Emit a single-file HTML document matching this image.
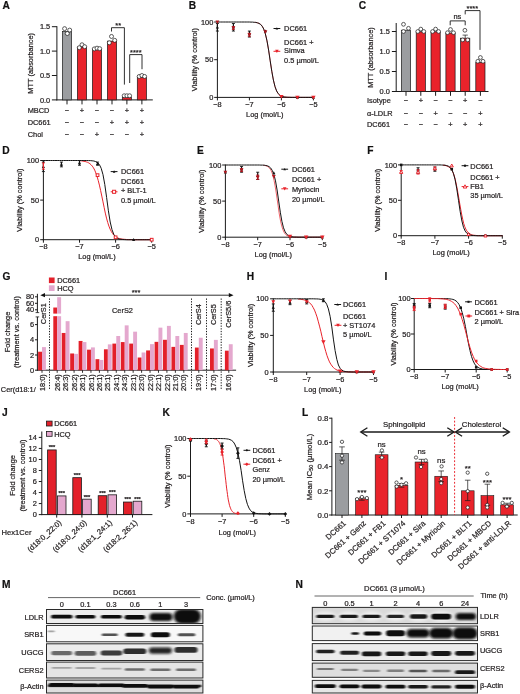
<!DOCTYPE html>
<html><head><meta charset="utf-8"><title>Figure</title>
<style>html,body{margin:0;padding:0;background:#fff}svg{display:block;font-family:"Liberation Sans",sans-serif;font-size:7.4px;fill:#231f20}text{stroke:#231f20;stroke-width:0.22px}</style>
</head><body>
<svg width="520" height="694" viewBox="0 0 520 694">
<rect width="520" height="694" fill="#fff"/>
<text x="2.50" y="9.40" font-size="10.2" font-weight="bold" fill="#111">A</text>
<line x1="56.90" y1="26.20" x2="56.90" y2="100.40" stroke="#1a1a1a" stroke-width="1.0"/>
<line x1="56.40" y1="99.90" x2="152.80" y2="99.90" stroke="#1a1a1a" stroke-width="1.0"/>
<line x1="51.90" y1="26.70" x2="56.90" y2="26.70" stroke="#1a1a1a" stroke-width="1.0"/>
<text x="50.20" y="29.30" text-anchor="end">1.5</text>
<line x1="51.90" y1="51.10" x2="56.90" y2="51.10" stroke="#1a1a1a" stroke-width="1.0"/>
<text x="50.20" y="53.70" text-anchor="end">1.0</text>
<line x1="51.90" y1="75.50" x2="56.90" y2="75.50" stroke="#1a1a1a" stroke-width="1.0"/>
<text x="50.20" y="78.10" text-anchor="end">0.5</text>
<line x1="51.90" y1="99.90" x2="56.90" y2="99.90" stroke="#1a1a1a" stroke-width="1.0"/>
<text x="50.20" y="102.50" text-anchor="end">0.0</text>
<rect x="62.40" y="31.59" width="9.20" height="68.31" fill="#9b9da0" stroke="#1a1a1a" stroke-width="0.7"/>
<line x1="67.00" y1="99.90" x2="67.00" y2="104.40" stroke="#1a1a1a" stroke-width="1.0"/>
<circle cx="64.60" cy="28.65" r="2.0" fill="#fff" stroke="#1a1a1a" stroke-width="0.7"/>
<circle cx="67.30" cy="33.53" r="2.0" fill="#fff" stroke="#1a1a1a" stroke-width="0.7"/>
<circle cx="69.70" cy="30.12" r="2.0" fill="#fff" stroke="#1a1a1a" stroke-width="0.7"/>
<rect x="77.40" y="47.01" width="9.20" height="52.89" fill="#e9232b" stroke="#1a1a1a" stroke-width="0.7"/>
<line x1="82.00" y1="99.90" x2="82.00" y2="104.40" stroke="#1a1a1a" stroke-width="1.0"/>
<circle cx="79.30" cy="47.68" r="2.0" fill="#fff" stroke="#1a1a1a" stroke-width="0.7"/>
<circle cx="82.00" cy="44.76" r="2.0" fill="#fff" stroke="#1a1a1a" stroke-width="0.7"/>
<circle cx="84.70" cy="46.71" r="2.0" fill="#fff" stroke="#1a1a1a" stroke-width="0.7"/>
<rect x="92.40" y="49.20" width="9.20" height="50.70" fill="#e9232b" stroke="#1a1a1a" stroke-width="0.7"/>
<line x1="97.00" y1="99.90" x2="97.00" y2="104.40" stroke="#1a1a1a" stroke-width="1.0"/>
<circle cx="94.30" cy="48.90" r="2.0" fill="#fff" stroke="#1a1a1a" stroke-width="0.7"/>
<circle cx="97.00" cy="48.17" r="2.0" fill="#fff" stroke="#1a1a1a" stroke-width="0.7"/>
<circle cx="99.70" cy="48.66" r="2.0" fill="#fff" stroke="#1a1a1a" stroke-width="0.7"/>
<rect x="107.40" y="41.15" width="9.20" height="58.75" fill="#e9232b" stroke="#1a1a1a" stroke-width="0.7"/>
<line x1="112.00" y1="99.90" x2="112.00" y2="104.40" stroke="#1a1a1a" stroke-width="1.0"/>
<circle cx="109.30" cy="42.80" r="2.0" fill="#fff" stroke="#1a1a1a" stroke-width="0.7"/>
<circle cx="111.50" cy="36.46" r="2.0" fill="#fff" stroke="#1a1a1a" stroke-width="0.7"/>
<circle cx="114.70" cy="40.36" r="2.0" fill="#fff" stroke="#1a1a1a" stroke-width="0.7"/>
<rect x="122.30" y="97.27" width="9.20" height="2.63" fill="#e9232b" stroke="#1a1a1a" stroke-width="0.7"/>
<line x1="126.90" y1="99.90" x2="126.90" y2="104.40" stroke="#1a1a1a" stroke-width="1.0"/>
<circle cx="124.20" cy="95.75" r="2.0" fill="#fff" stroke="#1a1a1a" stroke-width="0.7"/>
<circle cx="126.90" cy="95.75" r="2.0" fill="#fff" stroke="#1a1a1a" stroke-width="0.7"/>
<circle cx="129.60" cy="95.75" r="2.0" fill="#fff" stroke="#1a1a1a" stroke-width="0.7"/>
<rect x="137.30" y="77.51" width="9.20" height="22.39" fill="#e9232b" stroke="#1a1a1a" stroke-width="0.7"/>
<line x1="141.90" y1="99.90" x2="141.90" y2="104.40" stroke="#1a1a1a" stroke-width="1.0"/>
<circle cx="139.20" cy="76.48" r="2.0" fill="#fff" stroke="#1a1a1a" stroke-width="0.7"/>
<circle cx="141.90" cy="75.50" r="2.0" fill="#fff" stroke="#1a1a1a" stroke-width="0.7"/>
<circle cx="144.60" cy="76.48" r="2.0" fill="#fff" stroke="#1a1a1a" stroke-width="0.7"/>
<text x="27.70" y="112.90">MBCD</text>
<text x="67.00" y="112.90" text-anchor="middle">−</text>
<text x="82.00" y="112.90" text-anchor="middle">+</text>
<text x="97.00" y="112.90" text-anchor="middle">−</text>
<text x="112.00" y="112.90" text-anchor="middle">−</text>
<text x="126.90" y="112.90" text-anchor="middle">+</text>
<text x="141.90" y="112.90" text-anchor="middle">+</text>
<text x="27.70" y="124.90">DC661</text>
<text x="67.00" y="124.90" text-anchor="middle">−</text>
<text x="82.00" y="124.90" text-anchor="middle">−</text>
<text x="97.00" y="124.90" text-anchor="middle">−</text>
<text x="112.00" y="124.90" text-anchor="middle">+</text>
<text x="126.90" y="124.90" text-anchor="middle">+</text>
<text x="141.90" y="124.90" text-anchor="middle">+</text>
<text x="27.70" y="137.10">Chol</text>
<text x="67.00" y="137.10" text-anchor="middle">−</text>
<text x="82.00" y="137.10" text-anchor="middle">−</text>
<text x="97.00" y="137.10" text-anchor="middle">+</text>
<text x="112.00" y="137.10" text-anchor="middle">−</text>
<text x="126.90" y="137.10" text-anchor="middle">−</text>
<text x="141.90" y="137.10" text-anchor="middle">+</text>
<text x="33.10" y="63.30" text-anchor="middle" transform="rotate(-90 33.10 63.30)">MTT (absorbance)</text>
<path d="M111.5,31.5 V27.7 H124.4 V84.6" stroke="#1a1a1a" stroke-width="0.9" fill="none"/>
<text x="118.20" y="27.60" text-anchor="middle">**</text>
<path d="M129.7,83 V54.6 H142 V69.2" stroke="#1a1a1a" stroke-width="0.9" fill="none"/>
<text x="135.80" y="54.90" text-anchor="middle">****</text>
<text x="358.80" y="9.00" font-size="10.2" font-weight="bold" fill="#111">C</text>
<line x1="396.20" y1="23.00" x2="396.20" y2="92.00" stroke="#1a1a1a" stroke-width="1.0"/>
<line x1="395.70" y1="91.50" x2="488.50" y2="91.50" stroke="#1a1a1a" stroke-width="1.0"/>
<line x1="391.90" y1="31.50" x2="396.20" y2="31.50" stroke="#1a1a1a" stroke-width="1.0"/>
<text x="389.80" y="34.10" text-anchor="end">1.5</text>
<line x1="391.90" y1="51.50" x2="396.20" y2="51.50" stroke="#1a1a1a" stroke-width="1.0"/>
<text x="389.80" y="54.10" text-anchor="end">1.0</text>
<line x1="391.90" y1="71.50" x2="396.20" y2="71.50" stroke="#1a1a1a" stroke-width="1.0"/>
<text x="389.80" y="74.10" text-anchor="end">0.5</text>
<line x1="391.90" y1="91.50" x2="396.20" y2="91.50" stroke="#1a1a1a" stroke-width="1.0"/>
<text x="389.80" y="94.10" text-anchor="end">0.0</text>
<rect x="401.40" y="30.20" width="9.20" height="61.30" fill="#9b9da0" stroke="#1a1a1a" stroke-width="0.7"/>
<line x1="406.00" y1="91.50" x2="406.00" y2="95.80" stroke="#1a1a1a" stroke-width="1.0"/>
<circle cx="403.50" cy="24.30" r="1.9" fill="#fff" stroke="#1a1a1a" stroke-width="0.7"/>
<circle cx="408.50" cy="28.30" r="1.9" fill="#fff" stroke="#1a1a1a" stroke-width="0.7"/>
<circle cx="403.50" cy="31.50" r="1.9" fill="#fff" stroke="#1a1a1a" stroke-width="0.7"/>
<rect x="416.20" y="31.80" width="9.20" height="59.70" fill="#e9232b" stroke="#1a1a1a" stroke-width="0.7"/>
<line x1="420.80" y1="91.50" x2="420.80" y2="95.80" stroke="#1a1a1a" stroke-width="1.0"/>
<circle cx="417.80" cy="31.50" r="1.9" fill="#fff" stroke="#1a1a1a" stroke-width="0.7"/>
<circle cx="420.80" cy="29.10" r="1.9" fill="#fff" stroke="#1a1a1a" stroke-width="0.7"/>
<circle cx="423.80" cy="31.50" r="1.9" fill="#fff" stroke="#1a1a1a" stroke-width="0.7"/>
<rect x="431.00" y="31.80" width="9.20" height="59.70" fill="#e9232b" stroke="#1a1a1a" stroke-width="0.7"/>
<line x1="435.60" y1="91.50" x2="435.60" y2="95.80" stroke="#1a1a1a" stroke-width="1.0"/>
<circle cx="432.60" cy="31.50" r="1.9" fill="#fff" stroke="#1a1a1a" stroke-width="0.7"/>
<circle cx="435.60" cy="29.10" r="1.9" fill="#fff" stroke="#1a1a1a" stroke-width="0.7"/>
<circle cx="438.60" cy="31.50" r="1.9" fill="#fff" stroke="#1a1a1a" stroke-width="0.7"/>
<rect x="445.90" y="33.00" width="9.20" height="58.50" fill="#e9232b" stroke="#1a1a1a" stroke-width="0.7"/>
<line x1="450.50" y1="91.50" x2="450.50" y2="95.80" stroke="#1a1a1a" stroke-width="1.0"/>
<circle cx="447.50" cy="32.70" r="1.9" fill="#fff" stroke="#1a1a1a" stroke-width="0.7"/>
<circle cx="450.50" cy="29.50" r="1.9" fill="#fff" stroke="#1a1a1a" stroke-width="0.7"/>
<circle cx="453.50" cy="32.70" r="1.9" fill="#fff" stroke="#1a1a1a" stroke-width="0.7"/>
<rect x="460.60" y="38.20" width="9.20" height="53.30" fill="#e9232b" stroke="#1a1a1a" stroke-width="0.7"/>
<line x1="465.20" y1="91.50" x2="465.20" y2="95.80" stroke="#1a1a1a" stroke-width="1.0"/>
<circle cx="464.90" cy="30.30" r="1.9" fill="#fff" stroke="#1a1a1a" stroke-width="0.7"/>
<circle cx="462.70" cy="39.90" r="1.9" fill="#fff" stroke="#1a1a1a" stroke-width="0.7"/>
<circle cx="467.70" cy="39.90" r="1.9" fill="#fff" stroke="#1a1a1a" stroke-width="0.7"/>
<rect x="475.80" y="62.40" width="9.20" height="29.10" fill="#e9232b" stroke="#1a1a1a" stroke-width="0.7"/>
<line x1="480.40" y1="91.50" x2="480.40" y2="95.80" stroke="#1a1a1a" stroke-width="1.0"/>
<circle cx="477.80" cy="61.30" r="1.9" fill="#fff" stroke="#1a1a1a" stroke-width="0.7"/>
<circle cx="480.40" cy="57.50" r="1.9" fill="#fff" stroke="#1a1a1a" stroke-width="0.7"/>
<circle cx="483.00" cy="61.30" r="1.9" fill="#fff" stroke="#1a1a1a" stroke-width="0.7"/>
<text x="367.00" y="103.20">Isotype</text>
<text x="406.00" y="103.20" text-anchor="middle">−</text>
<text x="420.80" y="103.20" text-anchor="middle">+</text>
<text x="435.60" y="103.20" text-anchor="middle">−</text>
<text x="450.50" y="103.20" text-anchor="middle">−</text>
<text x="465.20" y="103.20" text-anchor="middle">+</text>
<text x="480.40" y="103.20" text-anchor="middle">−</text>
<text x="367.00" y="115.50">α-LDLR</text>
<text x="406.00" y="115.50" text-anchor="middle">−</text>
<text x="420.80" y="115.50" text-anchor="middle">−</text>
<text x="435.60" y="115.50" text-anchor="middle">+</text>
<text x="450.50" y="115.50" text-anchor="middle">−</text>
<text x="465.20" y="115.50" text-anchor="middle">−</text>
<text x="480.40" y="115.50" text-anchor="middle">+</text>
<text x="367.00" y="127.30">DC661</text>
<text x="406.00" y="127.30" text-anchor="middle">−</text>
<text x="420.80" y="127.30" text-anchor="middle">−</text>
<text x="435.60" y="127.30" text-anchor="middle">−</text>
<text x="450.50" y="127.30" text-anchor="middle">+</text>
<text x="465.20" y="127.30" text-anchor="middle">+</text>
<text x="480.40" y="127.30" text-anchor="middle">+</text>
<text x="373.00" y="57.50" text-anchor="middle" transform="rotate(-90 373.00 57.50)">MTT (absorbance)</text>
<path d="M465.2,35.1 V38 M462.6,35.1 H467.8" stroke="#1a1a1a" stroke-width="0.7" fill="none"/>
<path d="M450.2,25.3 V20.9 H465.2 V25.3" stroke="#1a1a1a" stroke-width="0.9" fill="none"/>
<text x="457.40" y="18.80" text-anchor="middle">ns</text>
<path d="M465.2,14.4 V10.6 H480 V49.9" stroke="#1a1a1a" stroke-width="0.9" fill="none"/>
<text x="472.30" y="11.20" text-anchor="middle">****</text>
<text x="188.70" y="8.70" font-size="10.2" font-weight="bold" fill="#111">B</text>
<line x1="217.40" y1="21.50" x2="217.40" y2="97.90" stroke="#1a1a1a" stroke-width="1.0"/>
<line x1="216.90" y1="97.40" x2="313.90" y2="97.40" stroke="#1a1a1a" stroke-width="1.0"/>
<line x1="214.20" y1="22.00" x2="217.40" y2="22.00" stroke="#1a1a1a" stroke-width="1.0"/>
<text x="213.30" y="24.60" text-anchor="end">100</text>
<line x1="214.20" y1="59.70" x2="217.40" y2="59.70" stroke="#1a1a1a" stroke-width="1.0"/>
<text x="213.30" y="62.30" text-anchor="end">50</text>
<line x1="214.20" y1="97.40" x2="217.40" y2="97.40" stroke="#1a1a1a" stroke-width="1.0"/>
<text x="213.30" y="100.00" text-anchor="end">0</text>
<line x1="217.40" y1="97.40" x2="217.40" y2="100.40" stroke="#1a1a1a" stroke-width="1.0"/>
<text x="217.40" y="107.40" text-anchor="middle">−8</text>
<line x1="249.40" y1="97.40" x2="249.40" y2="100.40" stroke="#1a1a1a" stroke-width="1.0"/>
<text x="249.40" y="107.40" text-anchor="middle">−7</text>
<line x1="281.40" y1="97.40" x2="281.40" y2="100.40" stroke="#1a1a1a" stroke-width="1.0"/>
<text x="281.40" y="107.40" text-anchor="middle">−6</text>
<line x1="313.40" y1="97.40" x2="313.40" y2="100.40" stroke="#1a1a1a" stroke-width="1.0"/>
<text x="313.40" y="107.40" text-anchor="middle">−5</text>
<text x="264.80" y="117.20" text-anchor="middle">Log (mol/L)</text>
<text x="197.20" y="59.70" text-anchor="middle" transform="rotate(-90 197.20 59.70)">Viability (% control)</text>
<path d="M254.7,22.3L255.7,22.4L256.6,22.6L257.6,22.9L258.6,23.2L259.6,23.7L260.6,24.4L261.5,25.4L262.5,26.7L263.5,28.5L264.5,30.9L265.4,34.1L266.4,38.1L267.4,43.0L268.4,48.8L269.4,55.1L270.3,61.7L271.3,68.2L272.3,74.2L273.3,79.5L274.3,83.8L275.2,87.3L276.2,90.0L277.2,92.1L278.2,93.6L279.1,94.7L280.1,95.4L281.1,96.0L282.1,96.4L283.1,96.7L284.0,96.9L285.0,97.1L286.0,97.2L287.0,97.2L288.0,97.3L288.9,97.3L289.9,97.3L290.9,97.4L291.9,97.4L292.8,97.4L293.8,97.4L294.8,97.4L295.8,97.4L296.8,97.4L297.7,97.4L298.7,97.4L299.7,97.4L300.7,97.4L301.7,97.4L302.6,97.4L303.6,97.4L304.6,97.4L305.6,97.4L306.5,97.4L307.5,97.4L308.5,97.4L309.5,97.4L310.5,97.4L311.4,97.4L312.4,97.4L313.4,97.4" stroke="#e9232b" stroke-width="0.7" fill="none" stroke-linejoin="round"/>
<path d="M217.4,22.0L219.0,22.0L220.6,22.0L222.2,22.0L223.8,22.0L225.4,22.0L227.0,22.0L228.6,22.0L230.2,22.0L231.8,22.0L233.4,22.0L235.0,22.0L236.6,22.0L238.2,22.0L239.8,22.0L241.4,22.0L243.0,22.0L244.6,22.0L246.2,22.0L247.8,22.0L249.4,22.0L251.0,22.1L252.6,22.1L254.2,22.3L255.8,22.4L257.4,22.8L259.0,23.4L260.6,24.4L262.2,26.2L263.8,29.2L265.4,34.0L267.0,40.9L268.6,50.1L270.2,60.8L271.8,71.3L273.4,80.1L275.0,86.6L276.6,90.9L278.2,93.6L279.8,95.2L281.4,96.2L283.0,96.7L284.6,97.0L286.2,97.2L287.8,97.3L289.4,97.3L291.0,97.4L292.6,97.4L294.2,97.4L295.8,97.4L297.4,97.4L299.0,97.4L300.6,97.4L302.2,97.4L303.8,97.4L305.4,97.4L307.0,97.4L308.6,97.4L310.2,97.4L311.8,97.4L313.4,97.4" stroke="#141414" stroke-width="1.0" fill="none" stroke-linejoin="round"/>
<line x1="217.40" y1="23.51" x2="217.40" y2="31.05" stroke="#141414" stroke-width="1.2"/>
<line x1="215.90" y1="23.51" x2="218.90" y2="23.51" stroke="#141414" stroke-width="0.9"/>
<line x1="215.90" y1="31.05" x2="218.90" y2="31.05" stroke="#141414" stroke-width="0.9"/>
<path d="M215.80,28.56 L219.00,28.56 L217.40,25.68 Z" fill="#141414"/>
<line x1="233.40" y1="23.51" x2="233.40" y2="31.05" stroke="#141414" stroke-width="1.2"/>
<line x1="231.90" y1="23.51" x2="234.90" y2="23.51" stroke="#141414" stroke-width="0.9"/>
<line x1="231.90" y1="31.05" x2="234.90" y2="31.05" stroke="#141414" stroke-width="0.9"/>
<path d="M231.80,28.56 L235.00,28.56 L233.40,25.68 Z" fill="#141414"/>
<line x1="249.40" y1="31.05" x2="249.40" y2="37.08" stroke="#141414" stroke-width="1.2"/>
<line x1="247.90" y1="31.05" x2="250.90" y2="31.05" stroke="#141414" stroke-width="0.9"/>
<line x1="247.90" y1="37.08" x2="250.90" y2="37.08" stroke="#141414" stroke-width="0.9"/>
<path d="M247.80,35.34 L251.00,35.34 L249.40,32.46 Z" fill="#141414"/>
<path d="M263.80,32.33 L267.00,32.33 L265.40,29.45 Z" fill="#141414"/>
<path d="M279.80,97.93 L283.00,97.93 L281.40,95.05 Z" fill="#141414"/>
<path d="M295.80,98.68 L299.00,98.68 L297.40,95.80 Z" fill="#141414"/>
<path d="M311.80,98.68 L315.00,98.68 L313.40,95.80 Z" fill="#141414"/>
<path d="M215.50,20.48 L219.30,20.48 L217.40,23.90 Z" fill="#b0161e"/>
<line x1="233.40" y1="26.52" x2="233.40" y2="29.54" stroke="#b0161e" stroke-width="1.2"/>
<line x1="231.90" y1="26.52" x2="234.90" y2="26.52" stroke="#b0161e" stroke-width="0.9"/>
<line x1="231.90" y1="29.54" x2="234.90" y2="29.54" stroke="#b0161e" stroke-width="0.9"/>
<path d="M231.50,26.51 L235.30,26.51 L233.40,29.93 Z" fill="#b0161e"/>
<line x1="249.40" y1="33.31" x2="249.40" y2="36.33" stroke="#b0161e" stroke-width="1.2"/>
<line x1="247.90" y1="33.31" x2="250.90" y2="33.31" stroke="#b0161e" stroke-width="0.9"/>
<line x1="247.90" y1="36.33" x2="250.90" y2="36.33" stroke="#b0161e" stroke-width="0.9"/>
<path d="M247.50,33.30 L251.30,33.30 L249.40,36.72 Z" fill="#b0161e"/>
<path d="M263.50,30.28 L267.30,30.28 L265.40,33.70 Z" fill="#b0161e"/>
<path d="M279.20,94.89 L283.60,94.89 L281.40,98.85 Z" fill="#e9232b"/>
<path d="M295.20,95.64 L299.60,95.64 L297.40,99.60 Z" fill="#e9232b"/>
<path d="M311.20,95.64 L315.60,95.64 L313.40,99.60 Z" fill="#e9232b"/>
<line x1="273.50" y1="28.50" x2="280.30" y2="28.50" stroke="#141414" stroke-width="1.0"/>
<path d="M275.60,29.54 L278.20,29.54 L276.90,27.20 Z" fill="#141414"/>
<text x="284.10" y="30.90">DC661</text>
<text x="284.10" y="44.80">DC661 +</text>
<line x1="273.50" y1="51.30" x2="280.30" y2="51.30" stroke="#e9232b" stroke-width="1.0"/>
<path d="M275.10,49.86 L278.70,49.86 L276.90,53.10 Z" fill="#e9232b"/>
<text x="284.10" y="53.40">Simva</text>
<text x="284.10" y="62.90">0.5 µmol/L</text>
<text x="2.30" y="154.00" font-size="10.2" font-weight="bold" fill="#111">D</text>
<line x1="43.40" y1="160.00" x2="43.40" y2="240.20" stroke="#1a1a1a" stroke-width="1.0"/>
<line x1="42.90" y1="239.70" x2="152.20" y2="239.70" stroke="#1a1a1a" stroke-width="1.0"/>
<line x1="40.20" y1="160.50" x2="43.40" y2="160.50" stroke="#1a1a1a" stroke-width="1.0"/>
<text x="39.00" y="163.10" text-anchor="end">100</text>
<line x1="40.20" y1="200.10" x2="43.40" y2="200.10" stroke="#1a1a1a" stroke-width="1.0"/>
<text x="39.00" y="202.70" text-anchor="end">50</text>
<line x1="40.20" y1="239.70" x2="43.40" y2="239.70" stroke="#1a1a1a" stroke-width="1.0"/>
<text x="39.00" y="242.30" text-anchor="end">0</text>
<line x1="43.40" y1="239.70" x2="43.40" y2="242.70" stroke="#1a1a1a" stroke-width="1.0"/>
<text x="43.40" y="249.20" text-anchor="middle">−8</text>
<line x1="79.50" y1="239.70" x2="79.50" y2="242.70" stroke="#1a1a1a" stroke-width="1.0"/>
<text x="79.50" y="249.20" text-anchor="middle">−7</text>
<line x1="115.60" y1="239.70" x2="115.60" y2="242.70" stroke="#1a1a1a" stroke-width="1.0"/>
<text x="115.60" y="249.20" text-anchor="middle">−6</text>
<line x1="151.70" y1="239.70" x2="151.70" y2="242.70" stroke="#1a1a1a" stroke-width="1.0"/>
<text x="151.70" y="249.20" text-anchor="middle">−5</text>
<text x="96.95" y="259.20" text-anchor="middle">Log (mol/L)</text>
<text x="21.80" y="200.10" text-anchor="middle" transform="rotate(-90 21.80 200.10)">Viability (% control)</text>
<path d="M80.4,160.8L81.6,160.9L82.8,161.1L84.0,161.3L85.1,161.5L86.3,161.9L87.5,162.3L88.7,162.9L89.9,163.7L91.1,164.8L92.3,166.1L93.5,167.9L94.7,170.1L95.8,172.9L97.0,176.3L98.2,180.4L99.4,185.1L100.6,190.4L101.8,196.1L103.0,201.9L104.2,207.7L105.3,213.1L106.5,218.1L107.7,222.4L108.9,226.1L110.1,229.1L111.3,231.5L112.5,233.4L113.7,235.0L114.9,236.1L116.0,237.0L117.2,237.7L118.4,238.2L119.6,238.6L120.8,238.9L122.0,239.1L123.2,239.2L124.4,239.3L125.6,239.4L126.7,239.5L127.9,239.6L129.1,239.6L130.3,239.6L131.5,239.6L132.7,239.7L133.9,239.7L135.1,239.7L136.2,239.7L137.4,239.7L138.6,239.7L139.8,239.7L141.0,239.7L142.2,239.7L143.4,239.7L144.6,239.7L145.8,239.7L146.9,239.7L148.1,239.7L149.3,239.7L150.5,239.7L151.7,239.7" stroke="#e9232b" stroke-width="1.0" fill="none" stroke-linejoin="round"/>
<path d="M43.4,160.5L45.2,160.5L47.0,160.5L48.8,160.5L50.6,160.5L52.4,160.5L54.2,160.5L56.0,160.5L57.8,160.5L59.6,160.5L61.5,160.5L63.3,160.5L65.1,160.5L66.9,160.5L68.7,160.5L70.5,160.5L72.3,160.5L74.1,160.5L75.9,160.5L77.7,160.5L79.5,160.5L81.3,160.5L83.1,160.5L84.9,160.5L86.7,160.5L88.5,160.6L90.3,160.6L92.1,160.8L93.9,161.0L95.7,161.6L97.6,162.6L99.4,164.6L101.2,168.3L103.0,174.7L104.8,184.6L106.6,197.4L108.4,210.8L110.2,222.0L112.0,229.7L113.8,234.4L115.6,236.9L117.4,238.3L119.2,239.0L121.0,239.3L122.8,239.5L124.6,239.6L126.4,239.7L128.2,239.7L130.0,239.7L131.8,239.7L133.7,239.7L135.5,239.7L137.3,239.7L139.1,239.7L140.9,239.7L142.7,239.7L144.5,239.7L146.3,239.7L148.1,239.7L149.9,239.7L151.7,239.7" stroke="#141414" stroke-width="1.0" fill="none" stroke-linejoin="round"/>
<line x1="43.40" y1="162.08" x2="43.40" y2="171.59" stroke="#141414" stroke-width="1.2"/>
<line x1="41.90" y1="162.08" x2="44.90" y2="162.08" stroke="#141414" stroke-width="0.9"/>
<line x1="41.90" y1="171.59" x2="44.90" y2="171.59" stroke="#141414" stroke-width="0.9"/>
<path d="M41.80,168.12 L45.00,168.12 L43.40,165.24 Z" fill="#141414"/>
<line x1="61.45" y1="162.08" x2="61.45" y2="166.84" stroke="#141414" stroke-width="1.2"/>
<line x1="59.95" y1="162.08" x2="62.95" y2="162.08" stroke="#141414" stroke-width="0.9"/>
<line x1="59.95" y1="166.84" x2="62.95" y2="166.84" stroke="#141414" stroke-width="0.9"/>
<path d="M59.85,165.74 L63.05,165.74 L61.45,162.86 Z" fill="#141414"/>
<line x1="79.50" y1="160.50" x2="79.50" y2="165.25" stroke="#141414" stroke-width="1.2"/>
<line x1="78.00" y1="160.50" x2="81.00" y2="160.50" stroke="#141414" stroke-width="0.9"/>
<line x1="78.00" y1="165.25" x2="81.00" y2="165.25" stroke="#141414" stroke-width="0.9"/>
<path d="M77.90,164.16 L81.10,164.16 L79.50,161.28 Z" fill="#141414"/>
<line x1="97.55" y1="162.08" x2="97.55" y2="165.25" stroke="#141414" stroke-width="1.2"/>
<line x1="96.05" y1="162.08" x2="99.05" y2="162.08" stroke="#141414" stroke-width="0.9"/>
<line x1="96.05" y1="165.25" x2="99.05" y2="165.25" stroke="#141414" stroke-width="0.9"/>
<path d="M95.95,164.95 L99.15,164.95 L97.55,162.07 Z" fill="#141414"/>
<path d="M114.00,238.60 L117.20,238.60 L115.60,235.72 Z" fill="#141414"/>
<path d="M132.05,240.98 L135.25,240.98 L133.65,238.10 Z" fill="#141414"/>
<path d="M150.10,240.98 L153.30,240.98 L151.70,238.10 Z" fill="#141414"/>
<line x1="43.40" y1="162.88" x2="43.40" y2="169.21" stroke="#e9232b" stroke-width="1.2"/>
<line x1="41.90" y1="162.88" x2="44.90" y2="162.88" stroke="#e9232b" stroke-width="0.9"/>
<line x1="41.90" y1="169.21" x2="44.90" y2="169.21" stroke="#e9232b" stroke-width="0.9"/>
<rect x="96.19" y="173.79" width="2.72" height="2.72" fill="#fff" stroke="#e9232b" stroke-width="1.0"/>
<rect x="114.24" y="235.96" width="2.72" height="2.72" fill="#fff" stroke="#e9232b" stroke-width="1.0"/>
<rect x="150.34" y="238.34" width="2.72" height="2.72" fill="#fff" stroke="#e9232b" stroke-width="1.0"/>
<line x1="110.70" y1="171.60" x2="117.50" y2="171.60" stroke="#141414" stroke-width="1.0"/>
<path d="M112.80,172.64 L115.40,172.64 L114.10,170.30 Z" fill="#141414"/>
<text x="121.00" y="173.50">DC661</text>
<text x="121.00" y="183.90">DC661</text>
<line x1="110.70" y1="191.80" x2="117.50" y2="191.80" stroke="#e9232b" stroke-width="1.0"/>
<rect x="112.57" y="190.27" width="3.06" height="3.06" fill="#fff" stroke="#e9232b" stroke-width="1.0"/>
<text x="121.00" y="193.40">+ BLT-1</text>
<text x="121.00" y="203.30">0.5 µmol/L</text>
<text x="196.90" y="154.40" font-size="10.2" font-weight="bold" fill="#111">E</text>
<line x1="225.40" y1="164.50" x2="225.40" y2="237.70" stroke="#1a1a1a" stroke-width="1.0"/>
<line x1="224.90" y1="237.20" x2="322.80" y2="237.20" stroke="#1a1a1a" stroke-width="1.0"/>
<line x1="222.20" y1="165.00" x2="225.40" y2="165.00" stroke="#1a1a1a" stroke-width="1.0"/>
<text x="221.30" y="167.60" text-anchor="end">100</text>
<line x1="222.20" y1="201.10" x2="225.40" y2="201.10" stroke="#1a1a1a" stroke-width="1.0"/>
<text x="221.30" y="203.70" text-anchor="end">50</text>
<line x1="222.20" y1="237.20" x2="225.40" y2="237.20" stroke="#1a1a1a" stroke-width="1.0"/>
<text x="221.30" y="239.80" text-anchor="end">0</text>
<line x1="225.40" y1="237.20" x2="225.40" y2="240.20" stroke="#1a1a1a" stroke-width="1.0"/>
<text x="225.40" y="246.90" text-anchor="middle">−8</text>
<line x1="257.70" y1="237.20" x2="257.70" y2="240.20" stroke="#1a1a1a" stroke-width="1.0"/>
<text x="257.70" y="246.90" text-anchor="middle">−7</text>
<line x1="290.00" y1="237.20" x2="290.00" y2="240.20" stroke="#1a1a1a" stroke-width="1.0"/>
<text x="290.00" y="246.90" text-anchor="middle">−6</text>
<line x1="322.30" y1="237.20" x2="322.30" y2="240.20" stroke="#1a1a1a" stroke-width="1.0"/>
<text x="322.30" y="246.90" text-anchor="middle">−5</text>
<text x="273.25" y="257.20" text-anchor="middle">Log (mol/L)</text>
<text x="203.70" y="201.10" text-anchor="middle" transform="rotate(-90 203.70 201.10)">Viability (% control)</text>
<path d="M263.3,165.3L264.3,165.4L265.3,165.6L266.3,165.9L267.2,166.3L268.2,166.9L269.2,167.8L270.2,169.0L271.2,170.8L272.2,173.2L273.1,176.4L274.1,180.6L275.1,185.9L276.1,192.0L277.1,198.8L278.1,205.7L279.0,212.3L280.0,218.2L281.0,223.1L282.0,226.9L283.0,229.9L284.0,232.1L284.9,233.6L285.9,234.7L286.9,235.5L287.9,236.0L288.9,236.4L289.9,236.7L290.8,236.8L291.8,236.9L292.8,237.0L293.8,237.1L294.8,237.1L295.8,237.1L296.7,237.2L297.7,237.2L298.7,237.2L299.7,237.2L300.7,237.2L301.7,237.2L302.6,237.2L303.6,237.2L304.6,237.2L305.6,237.2L306.6,237.2L307.6,237.2L308.5,237.2L309.5,237.2L310.5,237.2L311.5,237.2L312.5,237.2L313.5,237.2L314.4,237.2L315.4,237.2L316.4,237.2L317.4,237.2L318.4,237.2L319.4,237.2L320.3,237.2L321.3,237.2L322.3,237.2" stroke="#e9232b" stroke-width="0.7" fill="none" stroke-linejoin="round"/>
<path d="M225.4,165.0L227.0,165.0L228.6,165.0L230.2,165.0L231.9,165.0L233.5,165.0L235.1,165.0L236.7,165.0L238.3,165.0L239.9,165.0L241.6,165.0L243.2,165.0L244.8,165.0L246.4,165.0L248.0,165.0L249.6,165.0L251.2,165.0L252.9,165.0L254.5,165.0L256.1,165.0L257.7,165.0L259.3,165.0L260.9,165.1L262.5,165.1L264.2,165.2L265.8,165.5L267.4,165.8L269.0,166.6L270.6,167.9L272.2,170.3L273.9,174.4L275.5,180.9L277.1,190.0L278.7,201.1L280.3,212.2L281.9,221.3L283.5,227.8L285.2,231.9L286.8,234.3L288.4,235.6L290.0,236.4L291.6,236.7L293.2,237.0L294.8,237.1L296.5,237.1L298.1,237.2L299.7,237.2L301.3,237.2L302.9,237.2L304.5,237.2L306.1,237.2L307.8,237.2L309.4,237.2L311.0,237.2L312.6,237.2L314.2,237.2L315.8,237.2L317.5,237.2L319.1,237.2L320.7,237.2L322.3,237.2" stroke="#141414" stroke-width="1.0" fill="none" stroke-linejoin="round"/>
<path d="M223.80,173.50 L227.00,173.50 L225.40,170.62 Z" fill="#141414"/>
<line x1="241.55" y1="166.44" x2="241.55" y2="172.22" stroke="#141414" stroke-width="1.2"/>
<line x1="240.05" y1="166.44" x2="243.05" y2="166.44" stroke="#141414" stroke-width="0.9"/>
<line x1="240.05" y1="172.22" x2="243.05" y2="172.22" stroke="#141414" stroke-width="0.9"/>
<path d="M239.95,170.61 L243.15,170.61 L241.55,167.73 Z" fill="#141414"/>
<line x1="257.70" y1="172.22" x2="257.70" y2="179.44" stroke="#141414" stroke-width="1.2"/>
<line x1="256.20" y1="172.22" x2="259.20" y2="172.22" stroke="#141414" stroke-width="0.9"/>
<line x1="256.20" y1="179.44" x2="259.20" y2="179.44" stroke="#141414" stroke-width="0.9"/>
<path d="M256.10,177.11 L259.30,177.11 L257.70,174.23 Z" fill="#141414"/>
<path d="M272.25,174.22 L275.45,174.22 L273.85,171.34 Z" fill="#141414"/>
<path d="M288.40,237.76 L291.60,237.76 L290.00,234.88 Z" fill="#141414"/>
<path d="M304.55,238.48 L307.75,238.48 L306.15,235.60 Z" fill="#141414"/>
<path d="M320.70,238.48 L323.90,238.48 L322.30,235.60 Z" fill="#141414"/>
<path d="M223.50,170.70 L227.30,170.70 L225.40,174.12 Z" fill="#b0161e"/>
<line x1="241.55" y1="168.61" x2="241.55" y2="171.50" stroke="#b0161e" stroke-width="1.2"/>
<line x1="240.05" y1="168.61" x2="243.05" y2="168.61" stroke="#b0161e" stroke-width="0.9"/>
<line x1="240.05" y1="171.50" x2="243.05" y2="171.50" stroke="#b0161e" stroke-width="0.9"/>
<path d="M239.65,168.53 L243.45,168.53 L241.55,171.95 Z" fill="#b0161e"/>
<line x1="257.70" y1="175.11" x2="257.70" y2="179.44" stroke="#b0161e" stroke-width="1.2"/>
<line x1="256.20" y1="175.11" x2="259.20" y2="175.11" stroke="#b0161e" stroke-width="0.9"/>
<line x1="256.20" y1="179.44" x2="259.20" y2="179.44" stroke="#b0161e" stroke-width="0.9"/>
<path d="M255.80,175.75 L259.60,175.75 L257.70,179.17 Z" fill="#b0161e"/>
<path d="M271.95,175.03 L275.75,175.03 L273.85,178.45 Z" fill="#b0161e"/>
<path d="M287.80,234.72 L292.20,234.72 L290.00,238.68 Z" fill="#e9232b"/>
<path d="M303.95,235.44 L308.35,235.44 L306.15,239.40 Z" fill="#e9232b"/>
<path d="M320.10,235.44 L324.50,235.44 L322.30,239.40 Z" fill="#e9232b"/>
<line x1="281.30" y1="169.20" x2="288.10" y2="169.20" stroke="#141414" stroke-width="1.0"/>
<path d="M283.40,170.24 L286.00,170.24 L284.70,167.90 Z" fill="#141414"/>
<text x="291.90" y="171.80">DC661</text>
<text x="291.90" y="182.30">DC661 +</text>
<line x1="281.30" y1="188.80" x2="288.10" y2="188.80" stroke="#e9232b" stroke-width="1.0"/>
<path d="M282.90,187.36 L286.50,187.36 L284.70,190.60 Z" fill="#e9232b"/>
<text x="291.90" y="191.50">Myriocin</text>
<text x="291.90" y="201.50">20 µmol/L</text>
<text x="367.20" y="154.40" font-size="10.2" font-weight="bold" fill="#111">F</text>
<line x1="401.20" y1="164.40" x2="401.20" y2="236.20" stroke="#1a1a1a" stroke-width="1.0"/>
<line x1="400.70" y1="235.70" x2="502.80" y2="235.70" stroke="#1a1a1a" stroke-width="1.0"/>
<line x1="398.00" y1="164.90" x2="401.20" y2="164.90" stroke="#1a1a1a" stroke-width="1.0"/>
<text x="397.10" y="167.50" text-anchor="end">100</text>
<line x1="398.00" y1="200.30" x2="401.20" y2="200.30" stroke="#1a1a1a" stroke-width="1.0"/>
<text x="397.10" y="202.90" text-anchor="end">50</text>
<line x1="398.00" y1="235.70" x2="401.20" y2="235.70" stroke="#1a1a1a" stroke-width="1.0"/>
<text x="397.10" y="238.30" text-anchor="end">0</text>
<line x1="401.20" y1="235.70" x2="401.20" y2="238.70" stroke="#1a1a1a" stroke-width="1.0"/>
<text x="401.20" y="245.40" text-anchor="middle">−8</text>
<line x1="434.90" y1="235.70" x2="434.90" y2="238.70" stroke="#1a1a1a" stroke-width="1.0"/>
<text x="434.90" y="245.40" text-anchor="middle">−7</text>
<line x1="468.60" y1="235.70" x2="468.60" y2="238.70" stroke="#1a1a1a" stroke-width="1.0"/>
<text x="468.60" y="245.40" text-anchor="middle">−6</text>
<line x1="502.30" y1="235.70" x2="502.30" y2="238.70" stroke="#1a1a1a" stroke-width="1.0"/>
<text x="502.30" y="245.40" text-anchor="middle">−5</text>
<text x="451.15" y="255.10" text-anchor="middle">Log (mol/L)</text>
<text x="379.80" y="200.30" text-anchor="middle" transform="rotate(-90 379.80 200.30)">Viability (% control)</text>
<path d="M443.0,165.2L444.0,165.3L445.0,165.4L446.0,165.7L446.9,166.0L447.9,166.4L448.9,167.0L449.9,167.8L450.9,168.9L451.9,170.3L452.9,172.3L453.9,174.8L454.9,178.1L455.8,182.1L456.8,186.9L457.8,192.3L458.8,198.1L459.8,204.1L460.8,209.8L461.8,215.1L462.8,219.7L463.7,223.5L464.7,226.5L465.7,228.9L466.7,230.7L467.7,232.1L468.7,233.1L469.7,233.8L470.7,234.3L471.7,234.7L472.6,235.0L473.6,235.2L474.6,235.3L475.6,235.4L476.6,235.5L477.6,235.6L478.6,235.6L479.6,235.6L480.6,235.7L481.5,235.7L482.5,235.7L483.5,235.7L484.5,235.7L485.5,235.7L486.5,235.7L487.5,235.7L488.5,235.7L489.4,235.7L490.4,235.7L491.4,235.7L492.4,235.7L493.4,235.7L494.4,235.7L495.4,235.7L496.4,235.7L497.4,235.7L498.3,235.7L499.3,235.7L500.3,235.7L501.3,235.7L502.3,235.7" stroke="#e9232b" stroke-width="1.0" fill="none" stroke-linejoin="round"/>
<path d="M401.2,164.9L402.9,164.9L404.6,164.9L406.3,164.9L407.9,164.9L409.6,164.9L411.3,164.9L413.0,164.9L414.7,164.9L416.4,164.9L418.1,164.9L419.7,164.9L421.4,164.9L423.1,164.9L424.8,164.9L426.5,164.9L428.2,164.9L429.8,164.9L431.5,164.9L433.2,164.9L434.9,164.9L436.6,164.9L438.3,164.9L440.0,164.9L441.6,165.0L443.3,165.1L445.0,165.2L446.7,165.6L448.4,166.2L450.1,167.3L451.8,169.5L453.4,173.3L455.1,179.6L456.8,188.9L458.5,200.3L460.2,211.7L461.9,221.0L463.5,227.3L465.2,231.1L466.9,233.3L468.6,234.4L470.3,235.0L472.0,235.4L473.7,235.5L475.3,235.6L477.0,235.7L478.7,235.7L480.4,235.7L482.1,235.7L483.8,235.7L485.4,235.7L487.1,235.7L488.8,235.7L490.5,235.7L492.2,235.7L493.9,235.7L495.6,235.7L497.2,235.7L498.9,235.7L500.6,235.7L502.3,235.7" stroke="#141414" stroke-width="1.0" fill="none" stroke-linejoin="round"/>
<rect x="399.92" y="163.62" width="2.56" height="2.56" fill="#141414"/>
<line x1="418.05" y1="167.73" x2="418.05" y2="173.40" stroke="#141414" stroke-width="1.2"/>
<line x1="416.55" y1="167.73" x2="419.55" y2="167.73" stroke="#141414" stroke-width="0.9"/>
<line x1="416.55" y1="173.40" x2="419.55" y2="173.40" stroke="#141414" stroke-width="0.9"/>
<rect x="416.77" y="169.28" width="2.56" height="2.56" fill="#141414"/>
<line x1="434.90" y1="167.02" x2="434.90" y2="171.27" stroke="#141414" stroke-width="1.2"/>
<line x1="433.40" y1="167.02" x2="436.40" y2="167.02" stroke="#141414" stroke-width="0.9"/>
<line x1="433.40" y1="171.27" x2="436.40" y2="171.27" stroke="#141414" stroke-width="0.9"/>
<rect x="433.62" y="167.87" width="2.56" height="2.56" fill="#141414"/>
<rect x="450.47" y="167.87" width="2.56" height="2.56" fill="#141414"/>
<rect x="467.32" y="233.00" width="2.56" height="2.56" fill="#141414"/>
<rect x="484.17" y="234.42" width="2.56" height="2.56" fill="#141414"/>
<line x1="401.20" y1="170.56" x2="401.20" y2="173.40" stroke="#e9232b" stroke-width="1.2"/>
<line x1="399.70" y1="170.56" x2="402.70" y2="170.56" stroke="#e9232b" stroke-width="0.9"/>
<line x1="399.70" y1="173.40" x2="402.70" y2="173.40" stroke="#e9232b" stroke-width="0.9"/>
<path d="M399.60,173.26 L402.80,173.26 L401.20,170.38 Z" fill="#fff" stroke="#e9232b" stroke-width="0.95"/>
<line x1="418.05" y1="169.86" x2="418.05" y2="174.10" stroke="#e9232b" stroke-width="1.2"/>
<line x1="416.55" y1="169.86" x2="419.55" y2="169.86" stroke="#e9232b" stroke-width="0.9"/>
<line x1="416.55" y1="174.10" x2="419.55" y2="174.10" stroke="#e9232b" stroke-width="0.9"/>
<path d="M416.45,173.26 L419.65,173.26 L418.05,170.38 Z" fill="#fff" stroke="#e9232b" stroke-width="0.95"/>
<line x1="434.90" y1="167.02" x2="434.90" y2="169.86" stroke="#e9232b" stroke-width="1.2"/>
<line x1="433.40" y1="167.02" x2="436.40" y2="167.02" stroke="#e9232b" stroke-width="0.9"/>
<line x1="433.40" y1="169.86" x2="436.40" y2="169.86" stroke="#e9232b" stroke-width="0.9"/>
<path d="M433.30,169.72 L436.50,169.72 L434.90,166.84 Z" fill="#fff" stroke="#e9232b" stroke-width="0.95"/>
<path d="M450.15,166.89 L453.35,166.89 L451.75,164.01 Z" fill="#fff" stroke="#e9232b" stroke-width="0.95"/>
<path d="M467.00,235.56 L470.20,235.56 L468.60,232.68 Z" fill="#fff" stroke="#e9232b" stroke-width="0.95"/>
<path d="M483.85,236.98 L487.05,236.98 L485.45,234.10 Z" fill="#fff" stroke="#e9232b" stroke-width="0.95"/>
<line x1="461.60" y1="165.70" x2="468.40" y2="165.70" stroke="#141414" stroke-width="1.0"/>
<rect x="463.96" y="164.66" width="2.08" height="2.08" fill="#141414"/>
<text x="470.30" y="168.50">DC661</text>
<text x="470.30" y="179.70">DC661 +</text>
<line x1="461.60" y1="186.60" x2="468.40" y2="186.60" stroke="#e9232b" stroke-width="1.0"/>
<path d="M463.20,188.04 L466.80,188.04 L465.00,184.80 Z" fill="#fff" stroke="#e9232b" stroke-width="0.95"/>
<text x="470.30" y="188.90">FB1</text>
<text x="470.30" y="198.00">35 µmol/L</text>
<text x="246.80" y="279.70" font-size="10.2" font-weight="bold" fill="#111">H</text>
<line x1="273.30" y1="298.30" x2="273.30" y2="372.50" stroke="#1a1a1a" stroke-width="1.0"/>
<line x1="272.80" y1="372.00" x2="374.00" y2="372.00" stroke="#1a1a1a" stroke-width="1.0"/>
<line x1="270.10" y1="298.80" x2="273.30" y2="298.80" stroke="#1a1a1a" stroke-width="1.0"/>
<text x="268.60" y="301.40" text-anchor="end">100</text>
<line x1="270.10" y1="335.40" x2="273.30" y2="335.40" stroke="#1a1a1a" stroke-width="1.0"/>
<text x="268.60" y="338.00" text-anchor="end">50</text>
<line x1="270.10" y1="372.00" x2="273.30" y2="372.00" stroke="#1a1a1a" stroke-width="1.0"/>
<text x="268.60" y="374.60" text-anchor="end">0</text>
<line x1="273.30" y1="372.00" x2="273.30" y2="375.00" stroke="#1a1a1a" stroke-width="1.0"/>
<text x="273.30" y="381.80" text-anchor="middle">−8</text>
<line x1="306.70" y1="372.00" x2="306.70" y2="375.00" stroke="#1a1a1a" stroke-width="1.0"/>
<text x="306.70" y="381.80" text-anchor="middle">−7</text>
<line x1="340.10" y1="372.00" x2="340.10" y2="375.00" stroke="#1a1a1a" stroke-width="1.0"/>
<text x="340.10" y="381.80" text-anchor="middle">−6</text>
<line x1="373.50" y1="372.00" x2="373.50" y2="375.00" stroke="#1a1a1a" stroke-width="1.0"/>
<text x="373.50" y="381.80" text-anchor="middle">−5</text>
<text x="322.80" y="391.50" text-anchor="middle">Log (mol/L)</text>
<text x="253.30" y="335.40" text-anchor="middle" transform="rotate(-90 253.30 335.40)">Viability (% control)</text>
<path d="M298.2,299.1L299.4,299.2L300.7,299.3L301.9,299.5L303.2,299.7L304.4,300.0L305.7,300.5L306.9,301.0L308.2,301.7L309.5,302.7L310.7,303.9L312.0,305.5L313.2,307.6L314.5,310.1L315.7,313.2L317.0,316.9L318.2,321.2L319.5,326.1L320.8,331.2L322.0,336.6L323.3,341.9L324.5,347.0L325.8,351.6L327.0,355.6L328.3,359.1L329.5,361.9L330.8,364.2L332.1,366.0L333.3,367.5L334.6,368.6L335.8,369.4L337.1,370.1L338.3,370.5L339.6,370.9L340.8,371.2L342.1,371.4L343.4,371.5L344.6,371.7L345.9,371.7L347.1,371.8L348.4,371.9L349.6,371.9L350.9,371.9L352.2,371.9L353.4,372.0L354.7,372.0L355.9,372.0L357.2,372.0L358.4,372.0L359.7,372.0L360.9,372.0L362.2,372.0L363.5,372.0L364.7,372.0L366.0,372.0L367.2,372.0L368.5,372.0L369.7,372.0L371.0,372.0L372.2,372.0L373.5,372.0" stroke="#e9232b" stroke-width="1.0" fill="none" stroke-linejoin="round"/>
<path d="M273.3,298.8L275.0,298.8L276.6,298.8L278.3,298.8L280.0,298.8L281.7,298.8L283.3,298.8L285.0,298.8L286.7,298.8L288.3,298.8L290.0,298.8L291.7,298.8L293.3,298.8L295.0,298.8L296.7,298.8L298.4,298.8L300.0,298.8L301.7,298.8L303.4,298.8L305.0,298.8L306.7,298.8L308.4,298.8L310.0,298.8L311.7,298.8L313.4,298.8L315.1,298.9L316.7,298.9L318.4,299.0L320.1,299.2L321.7,299.6L323.4,300.3L325.1,301.7L326.7,304.3L328.4,308.9L330.1,316.3L331.8,326.9L333.4,339.1L335.1,350.6L336.8,359.3L338.4,365.0L340.1,368.3L341.8,370.1L343.4,371.0L345.1,371.5L346.8,371.7L348.4,371.9L350.1,371.9L351.8,372.0L353.5,372.0L355.1,372.0L356.8,372.0L358.5,372.0L360.1,372.0L361.8,372.0L363.5,372.0L365.1,372.0L366.8,372.0L368.5,372.0L370.2,372.0L371.8,372.0L373.5,372.0" stroke="#141414" stroke-width="1.0" fill="none" stroke-linejoin="round"/>
<line x1="273.30" y1="303.92" x2="273.30" y2="311.24" stroke="#141414" stroke-width="1.2"/>
<line x1="271.80" y1="303.92" x2="274.80" y2="303.92" stroke="#141414" stroke-width="0.9"/>
<line x1="271.80" y1="311.24" x2="274.80" y2="311.24" stroke="#141414" stroke-width="0.9"/>
<path d="M271.70,308.86 L274.90,308.86 L273.30,305.98 Z" fill="#141414"/>
<line x1="290.00" y1="300.26" x2="290.00" y2="304.66" stroke="#141414" stroke-width="1.2"/>
<line x1="288.50" y1="300.26" x2="291.50" y2="300.26" stroke="#141414" stroke-width="0.9"/>
<line x1="288.50" y1="304.66" x2="291.50" y2="304.66" stroke="#141414" stroke-width="0.9"/>
<path d="M288.40,303.74 L291.60,303.74 L290.00,300.86 Z" fill="#141414"/>
<line x1="306.70" y1="299.53" x2="306.70" y2="303.92" stroke="#141414" stroke-width="1.2"/>
<line x1="305.20" y1="299.53" x2="308.20" y2="299.53" stroke="#141414" stroke-width="0.9"/>
<line x1="305.20" y1="303.92" x2="308.20" y2="303.92" stroke="#141414" stroke-width="0.9"/>
<path d="M305.10,303.01 L308.30,303.01 L306.70,300.13 Z" fill="#141414"/>
<line x1="323.40" y1="298.80" x2="323.40" y2="301.73" stroke="#141414" stroke-width="1.2"/>
<line x1="321.90" y1="298.80" x2="324.90" y2="298.80" stroke="#141414" stroke-width="0.9"/>
<line x1="321.90" y1="301.73" x2="324.90" y2="301.73" stroke="#141414" stroke-width="0.9"/>
<path d="M321.80,301.54 L325.00,301.54 L323.40,298.66 Z" fill="#141414"/>
<path d="M338.50,372.55 L341.70,372.55 L340.10,369.67 Z" fill="#141414"/>
<path d="M355.20,373.28 L358.40,373.28 L356.80,370.40 Z" fill="#141414"/>
<path d="M371.90,373.28 L375.10,373.28 L373.50,370.40 Z" fill="#141414"/>
<path d="M271.40,300.21 L275.20,300.21 L273.30,303.63 Z" fill="#e9232b"/>
<path d="M288.10,299.48 L291.90,299.48 L290.00,302.90 Z" fill="#e9232b"/>
<path d="M304.80,300.21 L308.60,300.21 L306.70,303.63 Z" fill="#e9232b"/>
<path d="M321.20,340.23 L325.60,340.23 L323.40,344.19 Z" fill="#e9232b"/>
<path d="M337.90,369.51 L342.30,369.51 L340.10,373.47 Z" fill="#e9232b"/>
<path d="M354.60,370.24 L359.00,370.24 L356.80,374.20 Z" fill="#e9232b"/>
<path d="M371.30,370.24 L375.70,370.24 L373.50,374.20 Z" fill="#e9232b"/>
<line x1="334.30" y1="304.50" x2="341.10" y2="304.50" stroke="#141414" stroke-width="1.0"/>
<path d="M336.40,305.54 L339.00,305.54 L337.70,303.20 Z" fill="#141414"/>
<text x="343.00" y="307.00">DC661</text>
<text x="343.00" y="318.80">DC661</text>
<line x1="334.60" y1="325.30" x2="341.40" y2="325.30" stroke="#e9232b" stroke-width="1.0"/>
<path d="M336.20,323.86 L339.80,323.86 L338.00,327.10 Z" fill="#e9232b"/>
<text x="343.00" y="327.80">+ ST1074</text>
<text x="343.00" y="337.30">5 µmol/L</text>
<text x="384.50" y="279.70" font-size="10.2" font-weight="bold" fill="#111">I</text>
<line x1="414.20" y1="298.00" x2="414.20" y2="370.00" stroke="#1a1a1a" stroke-width="1.0"/>
<line x1="413.70" y1="369.50" x2="507.70" y2="369.50" stroke="#1a1a1a" stroke-width="1.0"/>
<line x1="411.00" y1="298.50" x2="414.20" y2="298.50" stroke="#1a1a1a" stroke-width="1.0"/>
<text x="410.60" y="301.10" text-anchor="end">100</text>
<line x1="411.00" y1="334.00" x2="414.20" y2="334.00" stroke="#1a1a1a" stroke-width="1.0"/>
<text x="410.60" y="336.60" text-anchor="end">50</text>
<line x1="411.00" y1="369.50" x2="414.20" y2="369.50" stroke="#1a1a1a" stroke-width="1.0"/>
<text x="410.60" y="372.10" text-anchor="end">0</text>
<line x1="414.20" y1="369.50" x2="414.20" y2="372.50" stroke="#1a1a1a" stroke-width="1.0"/>
<text x="414.20" y="378.50" text-anchor="middle">−8</text>
<line x1="445.20" y1="369.50" x2="445.20" y2="372.50" stroke="#1a1a1a" stroke-width="1.0"/>
<text x="445.20" y="378.50" text-anchor="middle">−7</text>
<line x1="476.20" y1="369.50" x2="476.20" y2="372.50" stroke="#1a1a1a" stroke-width="1.0"/>
<text x="476.20" y="378.50" text-anchor="middle">−6</text>
<line x1="507.20" y1="369.50" x2="507.20" y2="372.50" stroke="#1a1a1a" stroke-width="1.0"/>
<text x="507.20" y="378.50" text-anchor="middle">−5</text>
<text x="460.10" y="388.90" text-anchor="middle">Log (mol/L)</text>
<text x="396.10" y="334.00" text-anchor="middle" transform="rotate(-90 396.10 334.00)">Viability (% control)</text>
<path d="M414.2,298.5L415.8,298.5L417.3,298.5L418.9,298.5L420.4,298.5L421.9,298.5L423.5,298.5L425.0,298.5L426.6,298.5L428.1,298.5L429.7,298.5L431.2,298.5L432.8,298.5L434.4,298.5L435.9,298.5L437.4,298.5L439.0,298.5L440.5,298.5L442.1,298.5L443.6,298.6L445.2,298.6L446.8,298.6L448.3,298.7L449.9,298.9L451.4,299.1L452.9,299.4L454.5,300.0L456.0,300.9L457.6,302.4L459.1,304.6L460.7,307.9L462.2,312.5L463.8,318.8L465.4,326.4L466.9,334.9L468.4,343.2L470.0,350.6L471.5,356.5L473.1,360.9L474.6,363.9L476.2,366.0L477.8,367.3L479.3,368.1L480.9,368.6L482.4,369.0L483.9,369.2L485.5,369.3L487.0,369.4L488.6,369.4L490.1,369.5L491.7,369.5L493.2,369.5L494.8,369.5L496.4,369.5L497.9,369.5L499.4,369.5L501.0,369.5L502.5,369.5L504.1,369.5L505.6,369.5L507.2,369.5" stroke="#141414" stroke-width="1.0" fill="none" stroke-linejoin="round"/>
<path d="M414.2,298.5L415.8,298.5L417.3,298.5L418.9,298.5L420.4,298.5L421.9,298.5L423.5,298.5L425.0,298.5L426.6,298.5L428.1,298.5L429.7,298.5L431.2,298.5L432.8,298.6L434.4,298.6L435.9,298.6L437.4,298.6L439.0,298.7L440.5,298.8L442.1,298.9L443.6,299.0L445.2,299.2L446.8,299.5L448.3,299.9L449.9,300.5L451.4,301.3L452.9,302.3L454.5,303.7L456.0,305.6L457.6,308.0L459.1,311.1L460.7,314.9L462.2,319.5L463.8,324.7L465.4,330.5L466.9,336.4L468.4,342.1L470.0,347.5L471.5,352.2L473.1,356.2L474.6,359.5L476.2,362.0L477.8,364.0L479.3,365.4L480.9,366.5L482.4,367.4L483.9,368.0L485.5,368.4L487.0,368.7L488.6,368.9L490.1,369.1L491.7,369.2L493.2,369.3L494.8,369.3L496.4,369.4L497.9,369.4L499.4,369.4L501.0,369.5L502.5,369.5L504.1,369.5L505.6,369.5L507.2,369.5" stroke="#e9232b" stroke-width="1.0" fill="none" stroke-linejoin="round"/>
<line x1="414.20" y1="303.47" x2="414.20" y2="307.73" stroke="#141414" stroke-width="1.2"/>
<line x1="412.70" y1="303.47" x2="415.70" y2="303.47" stroke="#141414" stroke-width="0.9"/>
<line x1="412.70" y1="307.73" x2="415.70" y2="307.73" stroke="#141414" stroke-width="0.9"/>
<rect x="412.92" y="304.32" width="2.56" height="2.56" fill="#141414"/>
<line x1="429.70" y1="303.47" x2="429.70" y2="307.73" stroke="#141414" stroke-width="1.2"/>
<line x1="428.20" y1="303.47" x2="431.20" y2="303.47" stroke="#141414" stroke-width="0.9"/>
<line x1="428.20" y1="307.73" x2="431.20" y2="307.73" stroke="#141414" stroke-width="0.9"/>
<rect x="428.42" y="304.32" width="2.56" height="2.56" fill="#141414"/>
<line x1="445.20" y1="304.89" x2="445.20" y2="309.15" stroke="#141414" stroke-width="1.2"/>
<line x1="443.70" y1="304.89" x2="446.70" y2="304.89" stroke="#141414" stroke-width="0.9"/>
<line x1="443.70" y1="309.15" x2="446.70" y2="309.15" stroke="#141414" stroke-width="0.9"/>
<rect x="443.92" y="305.74" width="2.56" height="2.56" fill="#141414"/>
<rect x="459.42" y="306.45" width="2.56" height="2.56" fill="#141414"/>
<rect x="474.92" y="366.09" width="2.56" height="2.56" fill="#141414"/>
<rect x="490.42" y="368.22" width="2.56" height="2.56" fill="#141414"/>
<rect x="505.92" y="368.22" width="2.56" height="2.56" fill="#141414"/>
<line x1="414.20" y1="306.31" x2="414.20" y2="310.57" stroke="#e9232b" stroke-width="1.2"/>
<line x1="412.70" y1="306.31" x2="415.70" y2="306.31" stroke="#e9232b" stroke-width="0.9"/>
<line x1="412.70" y1="310.57" x2="415.70" y2="310.57" stroke="#e9232b" stroke-width="0.9"/>
<rect x="412.92" y="307.16" width="2.56" height="2.56" fill="#e9232b"/>
<line x1="429.70" y1="297.79" x2="429.70" y2="302.05" stroke="#e9232b" stroke-width="1.2"/>
<line x1="428.20" y1="297.79" x2="431.20" y2="297.79" stroke="#e9232b" stroke-width="0.9"/>
<line x1="428.20" y1="302.05" x2="431.20" y2="302.05" stroke="#e9232b" stroke-width="0.9"/>
<rect x="428.42" y="298.64" width="2.56" height="2.56" fill="#e9232b"/>
<line x1="445.20" y1="304.18" x2="445.20" y2="308.44" stroke="#e9232b" stroke-width="1.2"/>
<line x1="443.70" y1="304.18" x2="446.70" y2="304.18" stroke="#e9232b" stroke-width="0.9"/>
<line x1="443.70" y1="308.44" x2="446.70" y2="308.44" stroke="#e9232b" stroke-width="0.9"/>
<rect x="443.92" y="305.03" width="2.56" height="2.56" fill="#e9232b"/>
<rect x="459.42" y="312.84" width="2.56" height="2.56" fill="#e9232b"/>
<rect x="474.92" y="359.70" width="2.56" height="2.56" fill="#e9232b"/>
<rect x="490.42" y="368.22" width="2.56" height="2.56" fill="#e9232b"/>
<rect x="505.92" y="368.22" width="2.56" height="2.56" fill="#e9232b"/>
<line x1="465.10" y1="301.80" x2="471.90" y2="301.80" stroke="#141414" stroke-width="1.0"/>
<rect x="467.46" y="300.76" width="2.08" height="2.08" fill="#141414"/>
<text x="474.50" y="304.50">DC661</text>
<line x1="465.40" y1="316.00" x2="472.20" y2="316.00" stroke="#e9232b" stroke-width="1.0"/>
<rect x="467.36" y="314.56" width="2.88" height="2.88" fill="#e9232b"/>
<text x="474.50" y="314.60">DC661 + Sira</text>
<text x="474.50" y="324.00">2 µmol/L</text>
<text x="162.60" y="415.60" font-size="10.2" font-weight="bold" fill="#111">K</text>
<line x1="190.50" y1="438.00" x2="190.50" y2="514.40" stroke="#1a1a1a" stroke-width="1.0"/>
<line x1="190.00" y1="513.90" x2="285.80" y2="513.90" stroke="#1a1a1a" stroke-width="1.0"/>
<line x1="187.30" y1="438.50" x2="190.50" y2="438.50" stroke="#1a1a1a" stroke-width="1.0"/>
<text x="186.40" y="441.10" text-anchor="end">100</text>
<line x1="187.30" y1="476.20" x2="190.50" y2="476.20" stroke="#1a1a1a" stroke-width="1.0"/>
<text x="186.40" y="478.80" text-anchor="end">50</text>
<line x1="187.30" y1="513.90" x2="190.50" y2="513.90" stroke="#1a1a1a" stroke-width="1.0"/>
<text x="186.40" y="516.50" text-anchor="end">0</text>
<line x1="190.50" y1="513.90" x2="190.50" y2="516.90" stroke="#1a1a1a" stroke-width="1.0"/>
<text x="190.50" y="524.40" text-anchor="middle">−8</text>
<line x1="222.10" y1="513.90" x2="222.10" y2="516.90" stroke="#1a1a1a" stroke-width="1.0"/>
<text x="222.10" y="524.40" text-anchor="middle">−7</text>
<line x1="253.70" y1="513.90" x2="253.70" y2="516.90" stroke="#1a1a1a" stroke-width="1.0"/>
<text x="253.70" y="524.40" text-anchor="middle">−6</text>
<line x1="285.30" y1="513.90" x2="285.30" y2="516.90" stroke="#1a1a1a" stroke-width="1.0"/>
<text x="285.30" y="524.40" text-anchor="middle">−5</text>
<text x="237.30" y="534.50" text-anchor="middle">Log (mol/L)</text>
<text x="170.30" y="476.20" text-anchor="middle" transform="rotate(-90 170.30 476.20)">Viability (% control)</text>
<path d="M213.8,438.8L214.2,438.9L214.6,439.0L215.1,439.1L215.5,439.2L215.9,439.3L216.3,439.5L216.8,439.7L217.2,440.0L217.6,440.4L218.1,440.8L218.5,441.3L218.9,441.9L219.3,442.6L219.8,443.5L220.2,444.6L220.6,445.8L221.1,447.3L221.5,449.0L221.9,451.1L222.3,453.4L222.8,456.0L223.2,458.9L223.6,462.1L224.1,465.6L224.5,469.2L224.9,473.0L225.3,476.9L225.8,480.8L226.2,484.5L226.6,488.1L227.1,491.5L227.5,494.6L227.9,497.4L228.3,499.9L228.8,502.1L229.2,504.0L229.6,505.7L230.1,507.1L230.5,508.2L230.9,509.2L231.3,510.1L231.8,510.7L232.2,511.3L232.6,511.8L233.1,512.2L233.5,512.5L233.9,512.7L234.3,513.0L234.8,513.1L235.2,513.3L235.6,513.4L236.1,513.5L236.5,513.6L236.9,513.6L237.3,513.7L237.8,513.7L238.2,513.8L238.6,513.8L239.1,513.8L239.5,513.8" stroke="#e9232b" stroke-width="1.0" fill="none" stroke-linejoin="round"/>
<path d="M190.5,438.5L192.1,438.5L193.7,438.5L195.2,438.5L196.8,438.5L198.4,438.5L200.0,438.5L201.6,438.5L203.1,438.5L204.7,438.5L206.3,438.5L207.9,438.5L209.5,438.5L211.0,438.5L212.6,438.5L214.2,438.5L215.8,438.5L217.4,438.5L218.9,438.5L220.5,438.5L222.1,438.6L223.7,438.6L225.3,438.7L226.8,438.9L228.4,439.1L230.0,439.6L231.6,440.4L233.2,441.7L234.7,444.0L236.3,447.6L237.9,453.0L239.5,460.7L241.1,470.3L242.6,480.8L244.2,490.6L245.8,498.6L247.4,504.3L249.0,508.1L250.5,510.5L252.1,511.9L253.7,512.7L255.3,513.2L256.9,513.5L258.4,513.7L260.0,513.8L261.6,513.8L263.2,513.9L264.8,513.9L266.3,513.9L267.9,513.9L269.5,513.9L271.1,513.9L272.7,513.9L274.2,513.9L275.8,513.9L277.4,513.9L279.0,513.9L280.6,513.9L282.1,513.9L283.7,513.9L285.3,513.9" stroke="#141414" stroke-width="1.0" fill="none" stroke-linejoin="round"/>
<line x1="190.50" y1="438.88" x2="190.50" y2="441.14" stroke="#141414" stroke-width="1.2"/>
<line x1="189.00" y1="438.88" x2="192.00" y2="438.88" stroke="#141414" stroke-width="0.9"/>
<line x1="189.00" y1="441.14" x2="192.00" y2="441.14" stroke="#141414" stroke-width="0.9"/>
<path d="M188.60,440.01 L190.50,438.11 L192.40,440.01 L190.50,441.91 Z" fill="#141414"/>
<line x1="206.30" y1="440.76" x2="206.30" y2="446.79" stroke="#141414" stroke-width="1.2"/>
<line x1="204.80" y1="440.76" x2="207.80" y2="440.76" stroke="#141414" stroke-width="0.9"/>
<line x1="204.80" y1="446.79" x2="207.80" y2="446.79" stroke="#141414" stroke-width="0.9"/>
<path d="M204.40,443.78 L206.30,441.88 L208.20,443.78 L206.30,445.68 Z" fill="#141414"/>
<line x1="222.10" y1="443.02" x2="222.10" y2="449.06" stroke="#141414" stroke-width="1.2"/>
<line x1="220.60" y1="443.02" x2="223.60" y2="443.02" stroke="#141414" stroke-width="0.9"/>
<line x1="220.60" y1="449.06" x2="223.60" y2="449.06" stroke="#141414" stroke-width="0.9"/>
<path d="M220.20,446.04 L222.10,444.14 L224.00,446.04 L222.10,447.94 Z" fill="#141414"/>
<line x1="237.90" y1="447.85" x2="237.90" y2="458.41" stroke="#141414" stroke-width="1.2"/>
<line x1="236.40" y1="447.85" x2="239.40" y2="447.85" stroke="#141414" stroke-width="0.9"/>
<line x1="236.40" y1="458.41" x2="239.40" y2="458.41" stroke="#141414" stroke-width="0.9"/>
<path d="M236.00,453.13 L237.90,451.23 L239.80,453.13 L237.90,455.03 Z" fill="#141414"/>
<path d="M251.80,513.15 L253.70,511.25 L255.60,513.15 L253.70,515.05 Z" fill="#141414"/>
<path d="M267.60,513.90 L269.50,512.00 L271.40,513.90 L269.50,515.80 Z" fill="#141414"/>
<path d="M283.40,513.90 L285.30,512.00 L287.20,513.90 L285.30,515.80 Z" fill="#141414"/>
<path d="M188.60,439.25 L190.50,437.35 L192.40,439.25 L190.50,441.15 Z" fill="#e9232b"/>
<line x1="206.30" y1="439.25" x2="206.30" y2="443.78" stroke="#e9232b" stroke-width="1.2"/>
<line x1="204.80" y1="439.25" x2="207.80" y2="439.25" stroke="#e9232b" stroke-width="0.9"/>
<line x1="204.80" y1="443.78" x2="207.80" y2="443.78" stroke="#e9232b" stroke-width="0.9"/>
<path d="M204.40,441.52 L206.30,439.62 L208.20,441.52 L206.30,443.42 Z" fill="#e9232b"/>
<line x1="222.10" y1="449.06" x2="222.10" y2="455.09" stroke="#e9232b" stroke-width="1.2"/>
<line x1="220.60" y1="449.06" x2="223.60" y2="449.06" stroke="#e9232b" stroke-width="0.9"/>
<line x1="220.60" y1="455.09" x2="223.60" y2="455.09" stroke="#e9232b" stroke-width="0.9"/>
<path d="M220.20,452.07 L222.10,450.17 L224.00,452.07 L222.10,453.97 Z" fill="#e9232b"/>
<path d="M236.00,513.15 L237.90,511.25 L239.80,513.15 L237.90,515.05 Z" fill="#e9232b"/>
<line x1="243.50" y1="450.30" x2="250.30" y2="450.30" stroke="#141414" stroke-width="1.0"/>
<path d="M245.60,450.30 L246.90,449.00 L248.20,450.30 L246.90,451.60 Z" fill="#141414"/>
<text x="252.40" y="452.80">DC661</text>
<line x1="243.40" y1="464.20" x2="250.20" y2="464.20" stroke="#e9232b" stroke-width="1.0"/>
<path d="M245.00,464.20 L246.80,462.40 L248.60,464.20 L246.80,466.00 Z" fill="#e9232b"/>
<text x="252.40" y="462.80">DC661 +</text>
<text x="252.40" y="471.80">Genz</text>
<text x="252.40" y="481.50">20 µmol/L</text>
<text x="2.60" y="280.20" font-size="10.2" font-weight="bold" fill="#111">G</text>
<rect x="48.90" y="277.50" width="5.70" height="5.60" fill="#e3202a"/>
<text x="57.20" y="283.10">DC661</text>
<rect x="48.90" y="285.30" width="5.70" height="5.70" fill="#e4a8ce"/>
<text x="57.20" y="290.80">HCQ</text>
<line x1="37.40" y1="316.90" x2="37.40" y2="370.70" stroke="#1a1a1a" stroke-width="1.0"/>
<line x1="37.40" y1="293.80" x2="37.40" y2="312.60" stroke="#1a1a1a" stroke-width="1.0"/>
<line x1="36.90" y1="370.20" x2="236.10" y2="370.20" stroke="#1a1a1a" stroke-width="1.0"/>
<line x1="35.00" y1="370.20" x2="37.40" y2="370.20" stroke="#1a1a1a" stroke-width="1.0"/>
<text x="34.20" y="372.80" text-anchor="end">0</text>
<line x1="35.00" y1="355.00" x2="37.40" y2="355.00" stroke="#1a1a1a" stroke-width="1.0"/>
<text x="34.20" y="357.60" text-anchor="end">2</text>
<line x1="35.00" y1="339.80" x2="37.40" y2="339.80" stroke="#1a1a1a" stroke-width="1.0"/>
<text x="34.20" y="342.40" text-anchor="end">4</text>
<line x1="35.00" y1="324.60" x2="37.40" y2="324.60" stroke="#1a1a1a" stroke-width="1.0"/>
<text x="34.20" y="327.20" text-anchor="end">6</text>
<line x1="35.00" y1="309.80" x2="37.40" y2="309.80" stroke="#1a1a1a" stroke-width="1.0"/>
<text x="34.20" y="312.40" text-anchor="end">40</text>
<line x1="35.00" y1="303.30" x2="37.40" y2="303.30" stroke="#1a1a1a" stroke-width="1.0"/>
<text x="34.20" y="305.90" text-anchor="end">60</text>
<line x1="35.00" y1="296.80" x2="37.40" y2="296.80" stroke="#1a1a1a" stroke-width="1.0"/>
<text x="34.20" y="299.40" text-anchor="end">80</text>
<line x1="35.60" y1="312.60" x2="39.20" y2="312.60" stroke="#1a1a1a" stroke-width="0.8"/>
<line x1="35.60" y1="316.90" x2="39.20" y2="316.90" stroke="#1a1a1a" stroke-width="0.8"/>
<rect x="38.10" y="351.73" width="3.90" height="18.47" fill="#e3202a"/>
<rect x="42.00" y="347.10" width="3.90" height="23.10" fill="#e4a8ce"/>
<line x1="42.00" y1="370.20" x2="42.00" y2="372.80" stroke="#1a1a1a" stroke-width="0.9"/>
<text x="44.60" y="374.20" text-anchor="end" transform="rotate(-90 44.60 374.20)">18:0)</text>
<rect x="53.30" y="316.20" width="3.90" height="54.00" fill="#e3202a"/>
<rect x="53.30" y="307.53" width="3.90" height="6.07" fill="#e3202a"/>
<rect x="57.20" y="316.20" width="3.90" height="54.00" fill="#e4a8ce"/>
<rect x="57.20" y="297.20" width="3.90" height="16.40" fill="#e4a8ce"/>
<line x1="57.20" y1="370.20" x2="57.20" y2="372.80" stroke="#1a1a1a" stroke-width="0.9"/>
<text x="59.80" y="374.20" text-anchor="end" transform="rotate(-90 59.80 374.20)">26:4)</text>
<rect x="61.74" y="332.96" width="3.90" height="37.24" fill="#e3202a"/>
<rect x="65.64" y="321.18" width="3.90" height="49.02" fill="#e4a8ce"/>
<line x1="65.64" y1="370.20" x2="65.64" y2="372.80" stroke="#1a1a1a" stroke-width="0.9"/>
<text x="68.24" y="374.20" text-anchor="end" transform="rotate(-90 68.24 374.20)">26:3)</text>
<rect x="70.18" y="353.48" width="3.90" height="16.72" fill="#e3202a"/>
<rect x="74.08" y="353.86" width="3.90" height="16.34" fill="#e4a8ce"/>
<line x1="74.08" y1="370.20" x2="74.08" y2="372.80" stroke="#1a1a1a" stroke-width="0.9"/>
<text x="76.68" y="374.20" text-anchor="end" transform="rotate(-90 76.68 374.20)">26:2)</text>
<rect x="78.62" y="340.94" width="3.90" height="29.26" fill="#e3202a"/>
<rect x="82.52" y="342.08" width="3.90" height="28.12" fill="#e4a8ce"/>
<line x1="82.52" y1="370.20" x2="82.52" y2="372.80" stroke="#1a1a1a" stroke-width="0.9"/>
<text x="85.12" y="374.20" text-anchor="end" transform="rotate(-90 85.12 374.20)">26:1)</text>
<rect x="87.06" y="349.68" width="3.90" height="20.52" fill="#e3202a"/>
<rect x="90.96" y="347.40" width="3.90" height="22.80" fill="#e4a8ce"/>
<line x1="90.96" y1="370.20" x2="90.96" y2="372.80" stroke="#1a1a1a" stroke-width="0.9"/>
<text x="93.56" y="374.20" text-anchor="end" transform="rotate(-90 93.56 374.20)">26:1)</text>
<rect x="95.50" y="359.18" width="3.90" height="11.02" fill="#e3202a"/>
<rect x="99.40" y="359.94" width="3.90" height="10.26" fill="#e4a8ce"/>
<line x1="99.40" y1="370.20" x2="99.40" y2="372.80" stroke="#1a1a1a" stroke-width="0.9"/>
<text x="102.00" y="374.20" text-anchor="end" transform="rotate(-90 102.00 374.20)">26:1)</text>
<rect x="103.94" y="349.30" width="3.90" height="20.90" fill="#e3202a"/>
<rect x="107.84" y="344.36" width="3.90" height="25.84" fill="#e4a8ce"/>
<line x1="107.84" y1="370.20" x2="107.84" y2="372.80" stroke="#1a1a1a" stroke-width="0.9"/>
<text x="110.44" y="374.20" text-anchor="end" transform="rotate(-90 110.44 374.20)">25:1)</text>
<rect x="112.38" y="343.60" width="3.90" height="26.60" fill="#e3202a"/>
<rect x="116.28" y="336.00" width="3.90" height="34.20" fill="#e4a8ce"/>
<line x1="116.28" y1="370.20" x2="116.28" y2="372.80" stroke="#1a1a1a" stroke-width="0.9"/>
<text x="118.88" y="374.20" text-anchor="end" transform="rotate(-90 118.88 374.20)">24:1)</text>
<rect x="120.82" y="342.08" width="3.90" height="28.12" fill="#e3202a"/>
<rect x="124.72" y="325.36" width="3.90" height="44.84" fill="#e4a8ce"/>
<line x1="124.72" y1="370.20" x2="124.72" y2="372.80" stroke="#1a1a1a" stroke-width="0.9"/>
<text x="127.32" y="374.20" text-anchor="end" transform="rotate(-90 127.32 374.20)">24:3)</text>
<rect x="129.26" y="343.60" width="3.90" height="26.60" fill="#e3202a"/>
<rect x="133.16" y="331.67" width="3.90" height="38.53" fill="#e4a8ce"/>
<line x1="133.16" y1="370.20" x2="133.16" y2="372.80" stroke="#1a1a1a" stroke-width="0.9"/>
<text x="135.76" y="374.20" text-anchor="end" transform="rotate(-90 135.76 374.20)">23:1)</text>
<rect x="137.70" y="357.51" width="3.90" height="12.69" fill="#e3202a"/>
<rect x="141.60" y="352.49" width="3.90" height="17.71" fill="#e4a8ce"/>
<line x1="141.60" y1="370.20" x2="141.60" y2="372.80" stroke="#1a1a1a" stroke-width="0.9"/>
<text x="144.20" y="374.20" text-anchor="end" transform="rotate(-90 144.20 374.20)">23:0)</text>
<rect x="146.14" y="350.44" width="3.90" height="19.76" fill="#e3202a"/>
<rect x="150.04" y="344.13" width="3.90" height="26.07" fill="#e4a8ce"/>
<line x1="150.04" y1="370.20" x2="150.04" y2="372.80" stroke="#1a1a1a" stroke-width="0.9"/>
<text x="152.64" y="374.20" text-anchor="end" transform="rotate(-90 152.64 374.20)">22:0)</text>
<rect x="154.58" y="341.85" width="3.90" height="28.35" fill="#e3202a"/>
<rect x="158.48" y="327.64" width="3.90" height="42.56" fill="#e4a8ce"/>
<line x1="158.48" y1="370.20" x2="158.48" y2="372.80" stroke="#1a1a1a" stroke-width="0.9"/>
<text x="161.08" y="374.20" text-anchor="end" transform="rotate(-90 161.08 374.20)">22:1)</text>
<rect x="163.02" y="339.80" width="3.90" height="30.40" fill="#e3202a"/>
<rect x="166.92" y="325.89" width="3.90" height="44.31" fill="#e4a8ce"/>
<line x1="166.92" y1="370.20" x2="166.92" y2="372.80" stroke="#1a1a1a" stroke-width="0.9"/>
<text x="169.52" y="374.20" text-anchor="end" transform="rotate(-90 169.52 374.20)">22:0)</text>
<rect x="171.46" y="346.87" width="3.90" height="23.33" fill="#e3202a"/>
<rect x="175.36" y="336.00" width="3.90" height="34.20" fill="#e4a8ce"/>
<line x1="175.36" y1="370.20" x2="175.36" y2="372.80" stroke="#1a1a1a" stroke-width="0.9"/>
<text x="177.96" y="374.20" text-anchor="end" transform="rotate(-90 177.96 374.20)">21:0)</text>
<rect x="179.90" y="344.89" width="3.90" height="25.31" fill="#e3202a"/>
<rect x="183.80" y="332.96" width="3.90" height="37.24" fill="#e4a8ce"/>
<line x1="183.80" y1="370.20" x2="183.80" y2="372.80" stroke="#1a1a1a" stroke-width="0.9"/>
<text x="186.40" y="374.20" text-anchor="end" transform="rotate(-90 186.40 374.20)">20:0)</text>
<rect x="194.90" y="347.55" width="3.90" height="22.65" fill="#e3202a"/>
<rect x="198.80" y="337.75" width="3.90" height="32.45" fill="#e4a8ce"/>
<line x1="198.80" y1="370.20" x2="198.80" y2="372.80" stroke="#1a1a1a" stroke-width="0.9"/>
<text x="201.40" y="374.20" text-anchor="end" transform="rotate(-90 201.40 374.20)">19:0)</text>
<rect x="210.00" y="348.46" width="3.90" height="21.74" fill="#e3202a"/>
<rect x="213.90" y="339.88" width="3.90" height="30.32" fill="#e4a8ce"/>
<line x1="213.90" y1="370.20" x2="213.90" y2="372.80" stroke="#1a1a1a" stroke-width="0.9"/>
<text x="216.50" y="374.20" text-anchor="end" transform="rotate(-90 216.50 374.20)">17:0)</text>
<rect x="224.90" y="350.67" width="3.90" height="19.53" fill="#e3202a"/>
<rect x="228.80" y="344.21" width="3.90" height="25.99" fill="#e4a8ce"/>
<line x1="228.80" y1="370.20" x2="228.80" y2="372.80" stroke="#1a1a1a" stroke-width="0.9"/>
<text x="231.40" y="374.20" text-anchor="end" transform="rotate(-90 231.40 374.20)">16:0)</text>
<line x1="49.50" y1="298.50" x2="49.50" y2="390.00" stroke="#1a1a1a" stroke-width="1.0" stroke-dasharray="1.3 1.4"/>
<line x1="191.50" y1="298.50" x2="191.50" y2="390.00" stroke="#1a1a1a" stroke-width="1.0" stroke-dasharray="1.3 1.4"/>
<line x1="206.50" y1="298.50" x2="206.50" y2="390.00" stroke="#1a1a1a" stroke-width="1.0" stroke-dasharray="1.3 1.4"/>
<line x1="221.20" y1="298.50" x2="221.20" y2="390.00" stroke="#1a1a1a" stroke-width="1.0" stroke-dasharray="1.3 1.4"/>
<line x1="43.00" y1="295.20" x2="231.00" y2="295.20" stroke="#1a1a1a" stroke-width="0.9"/>
<path d="M45,293.1 L40.3,295.2 L45,297.3 Z" fill="#111"/><path d="M228.8,293.1 L233.5,295.2 L228.8,297.3 Z" fill="#111"/>
<text x="136.00" y="295.20" text-anchor="middle">***</text>
<text x="46.40" y="313.70" text-anchor="middle" transform="rotate(-90 46.40 313.70)">CerS1</text>
<text x="122.50" y="313.10" text-anchor="middle">CerS2</text>
<text x="200.70" y="314.60" text-anchor="middle" transform="rotate(-90 200.70 314.60)">CerS4</text>
<text x="216.10" y="314.60" text-anchor="middle" transform="rotate(-90 216.10 314.60)">CerS5</text>
<text x="230.70" y="314.20" text-anchor="middle" transform="rotate(-90 230.70 314.20)">CerS5/6</text>
<text x="0.80" y="392.30">Cer(d18:1/</text>
<text x="9.90" y="332.00" text-anchor="middle" transform="rotate(-90 9.90 332.00)">Fold change</text>
<text x="19.40" y="332.00" text-anchor="middle" transform="rotate(-90 19.40 332.00)">(treatment vs. control)</text>
<text x="2.00" y="415.60" font-size="10.2" font-weight="bold" fill="#111">J</text>
<rect x="46.50" y="421.10" width="5.60" height="4.90" fill="#e3202a" stroke="#1a1a1a" stroke-width="0.8"/>
<text x="54.20" y="425.90">DC661</text>
<rect x="46.50" y="431.40" width="5.60" height="4.90" fill="#e4a8ce" stroke="#1a1a1a" stroke-width="0.8"/>
<text x="54.20" y="436.50">HCQ</text>
<line x1="41.80" y1="431.50" x2="41.80" y2="515.10" stroke="#1a1a1a" stroke-width="1.0"/>
<line x1="41.30" y1="514.60" x2="152.40" y2="514.60" stroke="#1a1a1a" stroke-width="1.0"/>
<line x1="38.80" y1="514.60" x2="41.80" y2="514.60" stroke="#1a1a1a" stroke-width="1.0"/>
<text x="36.80" y="517.20" text-anchor="end">0</text>
<line x1="38.80" y1="503.57" x2="41.80" y2="503.57" stroke="#1a1a1a" stroke-width="1.0"/>
<text x="36.80" y="506.17" text-anchor="end">2</text>
<line x1="38.80" y1="492.54" x2="41.80" y2="492.54" stroke="#1a1a1a" stroke-width="1.0"/>
<text x="36.80" y="495.14" text-anchor="end">4</text>
<line x1="38.80" y1="481.52" x2="41.80" y2="481.52" stroke="#1a1a1a" stroke-width="1.0"/>
<text x="36.80" y="484.12" text-anchor="end">6</text>
<line x1="38.80" y1="470.49" x2="41.80" y2="470.49" stroke="#1a1a1a" stroke-width="1.0"/>
<text x="36.80" y="473.09" text-anchor="end">8</text>
<line x1="38.80" y1="459.46" x2="41.80" y2="459.46" stroke="#1a1a1a" stroke-width="1.0"/>
<text x="36.80" y="462.06" text-anchor="end">10</text>
<line x1="38.80" y1="448.43" x2="41.80" y2="448.43" stroke="#1a1a1a" stroke-width="1.0"/>
<text x="36.80" y="451.03" text-anchor="end">12</text>
<line x1="38.80" y1="437.40" x2="41.80" y2="437.40" stroke="#1a1a1a" stroke-width="1.0"/>
<text x="36.80" y="440.00" text-anchor="end">14</text>
<rect x="47.60" y="449.93" width="8.60" height="64.67" fill="#e3202a" stroke="#1a1a1a" stroke-width="0.8"/>
<rect x="57.40" y="495.92" width="8.60" height="18.68" fill="#e4a8ce" stroke="#1a1a1a" stroke-width="0.8"/>
<text x="51.90" y="449.33" font-size="5.6" text-anchor="middle" font-weight="bold">***</text>
<text x="61.70" y="495.32" font-size="5.6" text-anchor="middle" font-weight="bold">***</text>
<line x1="56.70" y1="514.60" x2="56.70" y2="517.60" stroke="#1a1a1a" stroke-width="1.0"/>
<text x="62.00" y="523.40" font-size="7.6" text-anchor="end" transform="rotate(-42.5 62.00 523.40)">(d18:0_22:0)</text>
<rect x="72.80" y="477.67" width="8.60" height="36.93" fill="#e3202a" stroke="#1a1a1a" stroke-width="0.8"/>
<rect x="82.60" y="499.17" width="8.60" height="15.43" fill="#e4a8ce" stroke="#1a1a1a" stroke-width="0.8"/>
<text x="77.10" y="477.07" font-size="5.6" text-anchor="middle" font-weight="bold">***</text>
<text x="86.90" y="498.57" font-size="5.6" text-anchor="middle" font-weight="bold">***</text>
<line x1="81.90" y1="514.60" x2="81.90" y2="517.60" stroke="#1a1a1a" stroke-width="1.0"/>
<text x="87.20" y="523.40" font-size="7.6" text-anchor="end" transform="rotate(-42.5 87.20 523.40)">(d18:0_24:0)</text>
<rect x="98.20" y="495.70" width="8.60" height="18.90" fill="#e3202a" stroke="#1a1a1a" stroke-width="0.8"/>
<rect x="108.00" y="494.82" width="8.60" height="19.78" fill="#e4a8ce" stroke="#1a1a1a" stroke-width="0.8"/>
<text x="102.50" y="495.10" font-size="5.6" text-anchor="middle" font-weight="bold">***</text>
<text x="112.30" y="494.22" font-size="5.6" text-anchor="middle" font-weight="bold">***</text>
<line x1="107.30" y1="514.60" x2="107.30" y2="517.60" stroke="#1a1a1a" stroke-width="1.0"/>
<text x="112.60" y="523.40" font-size="7.6" text-anchor="end" transform="rotate(-42.5 112.60 523.40)">(d18:1_24:1)</text>
<rect x="123.40" y="502.04" width="8.60" height="12.56" fill="#e3202a" stroke="#1a1a1a" stroke-width="0.8"/>
<rect x="133.20" y="501.21" width="8.60" height="13.38" fill="#e4a8ce" stroke="#1a1a1a" stroke-width="0.8"/>
<text x="127.70" y="501.44" font-size="5.6" text-anchor="middle" font-weight="bold">***</text>
<text x="137.50" y="500.62" font-size="5.6" text-anchor="middle" font-weight="bold">***</text>
<line x1="132.50" y1="514.60" x2="132.50" y2="517.60" stroke="#1a1a1a" stroke-width="1.0"/>
<text x="137.80" y="523.40" font-size="7.6" text-anchor="end" transform="rotate(-42.5 137.80 523.40)">(d18:2_26:1)</text>
<text x="1.50" y="534.90" font-size="7.6">Hex1Cer</text>
<text x="14.80" y="475.50" text-anchor="middle" transform="rotate(-90 14.80 475.50)">Fold change</text>
<text x="24.60" y="475.50" text-anchor="middle" transform="rotate(-90 24.60 475.50)">(treatment vs. control)</text>
<text x="301.90" y="415.60" font-size="10.2" font-weight="bold" fill="#111">L</text>
<line x1="331.90" y1="417.70" x2="331.90" y2="515.50" stroke="#1a1a1a" stroke-width="1.0"/>
<line x1="331.40" y1="515.00" x2="517.70" y2="515.00" stroke="#1a1a1a" stroke-width="1.0"/>
<line x1="329.10" y1="515.00" x2="331.90" y2="515.00" stroke="#1a1a1a" stroke-width="1.0"/>
<text x="328.40" y="517.75" font-size="7.8" text-anchor="end">0.0</text>
<line x1="329.10" y1="490.80" x2="331.90" y2="490.80" stroke="#1a1a1a" stroke-width="1.0"/>
<text x="328.40" y="493.55" font-size="7.8" text-anchor="end">0.2</text>
<line x1="329.10" y1="466.60" x2="331.90" y2="466.60" stroke="#1a1a1a" stroke-width="1.0"/>
<text x="328.40" y="469.35" font-size="7.8" text-anchor="end">0.4</text>
<line x1="329.10" y1="442.40" x2="331.90" y2="442.40" stroke="#1a1a1a" stroke-width="1.0"/>
<text x="328.40" y="445.15" font-size="7.8" text-anchor="end">0.6</text>
<line x1="329.10" y1="418.20" x2="331.90" y2="418.20" stroke="#1a1a1a" stroke-width="1.0"/>
<text x="328.40" y="420.95" font-size="7.8" text-anchor="end">0.8</text>
<rect x="335.60" y="453.53" width="12.80" height="61.47" fill="#9b9da0" stroke="#1a1a1a" stroke-width="0.6"/>
<line x1="342.00" y1="446.88" x2="342.00" y2="460.19" stroke="#1a1a1a" stroke-width="0.7"/>
<line x1="339.20" y1="446.88" x2="344.80" y2="446.88" stroke="#1a1a1a" stroke-width="0.7"/>
<line x1="339.20" y1="460.19" x2="344.80" y2="460.19" stroke="#1a1a1a" stroke-width="0.7"/>
<circle cx="342.00" cy="441.80" r="1.65" fill="#fff" stroke="#1a1a1a" stroke-width="0.7"/>
<circle cx="342.00" cy="455.71" r="1.65" fill="#fff" stroke="#1a1a1a" stroke-width="0.7"/>
<circle cx="342.00" cy="462.37" r="1.65" fill="#fff" stroke="#1a1a1a" stroke-width="0.7"/>
<line x1="342.00" y1="515.00" x2="342.00" y2="518.00" stroke="#1a1a1a" stroke-width="1.0"/>
<text x="346.60" y="524.00" font-size="7.8" text-anchor="end" transform="rotate(-42 346.60 524.00)">DC661</text>
<rect x="355.50" y="498.79" width="12.80" height="16.21" fill="#e9232b" stroke="#1a1a1a" stroke-width="0.6"/>
<line x1="361.90" y1="497.33" x2="361.90" y2="500.24" stroke="#1a1a1a" stroke-width="0.7"/>
<line x1="359.10" y1="497.33" x2="364.70" y2="497.33" stroke="#1a1a1a" stroke-width="0.7"/>
<line x1="359.10" y1="500.24" x2="364.70" y2="500.24" stroke="#1a1a1a" stroke-width="0.7"/>
<circle cx="357.00" cy="499.15" r="1.65" fill="#fff" stroke="#1a1a1a" stroke-width="0.7"/>
<circle cx="361.90" cy="496.97" r="1.65" fill="#fff" stroke="#1a1a1a" stroke-width="0.7"/>
<circle cx="366.90" cy="498.06" r="1.65" fill="#fff" stroke="#1a1a1a" stroke-width="0.7"/>
<line x1="361.90" y1="515.00" x2="361.90" y2="518.00" stroke="#1a1a1a" stroke-width="1.0"/>
<text x="366.50" y="524.00" font-size="7.8" text-anchor="end" transform="rotate(-42 366.50 524.00)">DC661 + Genz</text>
<text x="361.90" y="495.40" font-size="7.8" text-anchor="middle">***</text>
<rect x="375.20" y="454.74" width="12.80" height="60.26" fill="#e9232b" stroke="#1a1a1a" stroke-width="0.6"/>
<line x1="381.60" y1="452.08" x2="381.60" y2="457.40" stroke="#1a1a1a" stroke-width="0.7"/>
<line x1="378.80" y1="452.08" x2="384.40" y2="452.08" stroke="#1a1a1a" stroke-width="0.7"/>
<line x1="378.80" y1="457.40" x2="384.40" y2="457.40" stroke="#1a1a1a" stroke-width="0.7"/>
<circle cx="381.90" cy="450.39" r="1.65" fill="#fff" stroke="#1a1a1a" stroke-width="0.7"/>
<circle cx="381.90" cy="457.52" r="1.65" fill="#fff" stroke="#1a1a1a" stroke-width="0.7"/>
<line x1="381.60" y1="515.00" x2="381.60" y2="518.00" stroke="#1a1a1a" stroke-width="1.0"/>
<text x="386.20" y="524.00" font-size="7.8" text-anchor="end" transform="rotate(-42 386.20 524.00)">DC661 + FB1</text>
<text x="381.60" y="446.50" font-size="7.8" text-anchor="middle">ns</text>
<rect x="395.10" y="485.36" width="12.80" height="29.64" fill="#e9232b" stroke="#1a1a1a" stroke-width="0.6"/>
<line x1="401.50" y1="483.54" x2="401.50" y2="487.17" stroke="#1a1a1a" stroke-width="0.7"/>
<line x1="398.70" y1="483.54" x2="404.30" y2="483.54" stroke="#1a1a1a" stroke-width="0.7"/>
<line x1="398.70" y1="487.17" x2="404.30" y2="487.17" stroke="#1a1a1a" stroke-width="0.7"/>
<circle cx="396.50" cy="482.57" r="1.65" fill="#fff" stroke="#1a1a1a" stroke-width="0.7"/>
<circle cx="401.50" cy="484.75" r="1.65" fill="#fff" stroke="#1a1a1a" stroke-width="0.7"/>
<circle cx="406.10" cy="483.30" r="1.65" fill="#fff" stroke="#1a1a1a" stroke-width="0.7"/>
<circle cx="396.70" cy="486.56" r="1.65" fill="#fff" stroke="#1a1a1a" stroke-width="0.7"/>
<line x1="401.50" y1="515.00" x2="401.50" y2="518.00" stroke="#1a1a1a" stroke-width="1.0"/>
<text x="406.10" y="524.00" font-size="7.8" text-anchor="end" transform="rotate(-42 406.10 524.00)">DC661 + ST1074</text>
<text x="401.50" y="481.60" font-size="7.8" text-anchor="middle">*</text>
<rect x="415.10" y="462.00" width="12.80" height="53.00" fill="#e9232b" stroke="#1a1a1a" stroke-width="0.6"/>
<line x1="421.50" y1="459.34" x2="421.50" y2="464.66" stroke="#1a1a1a" stroke-width="0.7"/>
<line x1="418.70" y1="459.34" x2="424.30" y2="459.34" stroke="#1a1a1a" stroke-width="0.7"/>
<line x1="418.70" y1="464.66" x2="424.30" y2="464.66" stroke="#1a1a1a" stroke-width="0.7"/>
<circle cx="416.00" cy="457.52" r="1.65" fill="#fff" stroke="#1a1a1a" stroke-width="0.7"/>
<circle cx="425.80" cy="460.43" r="1.65" fill="#fff" stroke="#1a1a1a" stroke-width="0.7"/>
<circle cx="421.00" cy="466.96" r="1.65" fill="#fff" stroke="#1a1a1a" stroke-width="0.7"/>
<line x1="421.50" y1="515.00" x2="421.50" y2="518.00" stroke="#1a1a1a" stroke-width="1.0"/>
<text x="426.10" y="524.00" font-size="7.8" text-anchor="end" transform="rotate(-42 426.10 524.00)">DC661 + Sira</text>
<text x="421.50" y="454.40" font-size="7.8" text-anchor="middle">ns</text>
<rect x="434.80" y="476.28" width="12.80" height="38.72" fill="#e9232b" stroke="#1a1a1a" stroke-width="0.6"/>
<line x1="441.20" y1="470.96" x2="441.20" y2="481.60" stroke="#1a1a1a" stroke-width="0.7"/>
<line x1="438.40" y1="470.96" x2="444.00" y2="470.96" stroke="#1a1a1a" stroke-width="0.7"/>
<line x1="438.40" y1="481.60" x2="444.00" y2="481.60" stroke="#1a1a1a" stroke-width="0.7"/>
<circle cx="441.60" cy="466.36" r="1.65" fill="#fff" stroke="#1a1a1a" stroke-width="0.7"/>
<circle cx="441.20" cy="479.06" r="1.65" fill="#fff" stroke="#1a1a1a" stroke-width="0.7"/>
<circle cx="441.20" cy="483.18" r="1.65" fill="#fff" stroke="#1a1a1a" stroke-width="0.7"/>
<line x1="441.20" y1="515.00" x2="441.20" y2="518.00" stroke="#1a1a1a" stroke-width="1.0"/>
<text x="445.80" y="524.00" font-size="7.8" text-anchor="end" transform="rotate(-42 445.80 524.00)">DC661 + Myriocin</text>
<text x="441.20" y="462.60" font-size="7.8" text-anchor="middle">ns</text>
<rect x="461.30" y="490.80" width="12.80" height="24.20" fill="#e9232b" stroke="#1a1a1a" stroke-width="0.6"/>
<line x1="467.70" y1="480.20" x2="467.70" y2="500.60" stroke="#1a1a1a" stroke-width="0.7"/>
<line x1="464.90" y1="480.20" x2="470.50" y2="480.20" stroke="#1a1a1a" stroke-width="0.7"/>
<line x1="464.90" y1="500.60" x2="470.50" y2="500.60" stroke="#1a1a1a" stroke-width="0.7"/>
<circle cx="467.70" cy="472.65" r="1.65" fill="#fff" stroke="#1a1a1a" stroke-width="0.7"/>
<circle cx="467.70" cy="491.16" r="1.65" fill="#fff" stroke="#1a1a1a" stroke-width="0.7"/>
<circle cx="467.70" cy="507.50" r="1.65" fill="#fff" stroke="#1a1a1a" stroke-width="0.7"/>
<line x1="467.70" y1="515.00" x2="467.70" y2="518.00" stroke="#1a1a1a" stroke-width="1.0"/>
<text x="472.30" y="524.00" font-size="7.8" text-anchor="end" transform="rotate(-42 472.30 524.00)">DC661 + BLT1</text>
<text x="467.70" y="470.60" font-size="7.8" text-anchor="middle">**</text>
<rect x="481.00" y="495.64" width="12.80" height="19.36" fill="#e9232b" stroke="#1a1a1a" stroke-width="0.6"/>
<line x1="487.40" y1="484.21" x2="487.40" y2="505.32" stroke="#1a1a1a" stroke-width="0.7"/>
<line x1="484.60" y1="484.21" x2="490.20" y2="484.21" stroke="#1a1a1a" stroke-width="0.7"/>
<line x1="484.60" y1="505.32" x2="490.20" y2="505.32" stroke="#1a1a1a" stroke-width="0.7"/>
<circle cx="487.20" cy="473.74" r="1.65" fill="#fff" stroke="#1a1a1a" stroke-width="0.7"/>
<circle cx="487.20" cy="504.84" r="1.65" fill="#fff" stroke="#1a1a1a" stroke-width="0.7"/>
<circle cx="487.20" cy="507.50" r="1.65" fill="#fff" stroke="#1a1a1a" stroke-width="0.7"/>
<line x1="487.40" y1="515.00" x2="487.40" y2="518.00" stroke="#1a1a1a" stroke-width="1.0"/>
<text x="492.00" y="524.00" font-size="7.8" text-anchor="end" transform="rotate(-42 492.00 524.00)">DC661 + MBCD</text>
<text x="487.40" y="485.00" font-size="7.8" text-anchor="middle">***</text>
<rect x="500.70" y="504.84" width="12.80" height="10.16" fill="#e9232b" stroke="#1a1a1a" stroke-width="0.6"/>
<line x1="507.10" y1="503.26" x2="507.10" y2="506.41" stroke="#1a1a1a" stroke-width="0.7"/>
<line x1="504.30" y1="503.26" x2="509.90" y2="503.26" stroke="#1a1a1a" stroke-width="0.7"/>
<line x1="504.30" y1="506.41" x2="509.90" y2="506.41" stroke="#1a1a1a" stroke-width="0.7"/>
<circle cx="502.60" cy="502.90" r="1.65" fill="#fff" stroke="#1a1a1a" stroke-width="0.7"/>
<circle cx="506.90" cy="506.53" r="1.65" fill="#fff" stroke="#1a1a1a" stroke-width="0.7"/>
<circle cx="511.80" cy="502.90" r="1.65" fill="#fff" stroke="#1a1a1a" stroke-width="0.7"/>
<line x1="507.10" y1="515.00" x2="507.10" y2="518.00" stroke="#1a1a1a" stroke-width="1.0"/>
<text x="511.70" y="524.00" font-size="7.8" text-anchor="end" transform="rotate(-42 511.70 524.00)">DC661 + anti-LDLR</text>
<text x="507.10" y="501.80" font-size="7.8" text-anchor="middle">***</text>
<line x1="454.60" y1="417.10" x2="454.60" y2="515.00" stroke="#e9232b" stroke-width="1.0" stroke-dasharray="1.8 1.8"/>
<line x1="361.20" y1="432.00" x2="453.50" y2="432.00" stroke="#1a1a1a" stroke-width="1.3"/>
<path d="M367.4,427.7 L360.7,432 L367.4,436.3" stroke="#1a1a1a" stroke-width="1.3" fill="none"/>
<path d="M447.3,427.7 L454.0,432 L447.3,436.3" stroke="#1a1a1a" stroke-width="1.3" fill="none"/>
<line x1="455.90" y1="432.00" x2="508.90" y2="432.00" stroke="#1a1a1a" stroke-width="1.3"/>
<path d="M462.1,427.7 L455.4,432 L462.1,436.3" stroke="#1a1a1a" stroke-width="1.3" fill="none"/>
<path d="M502.7,427.7 L509.4,432 L502.7,436.3" stroke="#1a1a1a" stroke-width="1.3" fill="none"/>
<text x="404.20" y="426.70" font-size="7.8" text-anchor="middle">Sphingolipid</text>
<text x="481.50" y="426.70" font-size="7.8" text-anchor="middle">Cholesterol</text>
<text x="311.5" y="467" font-size="7.8" text-anchor="middle" transform="rotate(-90 311.5 467)">Mean IC<tspan font-size="5.5" dy="1.6">50</tspan><tspan dy="-1.6"> (µmol/L)</tspan></text>
<defs><filter id="b1" x="-30%" y="-150%" width="160%" height="400%"><feGaussianBlur stdDeviation="1.0 0.6"/></filter><filter id="b2" x="-30%" y="-150%" width="160%" height="400%"><feGaussianBlur stdDeviation="1.4 0.9"/></filter><filter id="b3" x="-30%" y="-150%" width="160%" height="400%"><feGaussianBlur stdDeviation="2 1.6"/></filter></defs>
<text x="2.00" y="587.80" font-size="10.2" font-weight="bold" fill="#111">M</text>
<text x="124.60" y="595.10" text-anchor="middle">DC661</text>
<line x1="48.00" y1="597.60" x2="200.20" y2="597.60" stroke="#555" stroke-width="0.9"/>
<text x="206.20" y="599.70">Conc. (µmol/L)</text>
<text x="61.70" y="606.80" text-anchor="middle">0</text>
<text x="85.40" y="606.80" text-anchor="middle">0.1</text>
<text x="111.40" y="606.80" text-anchor="middle">0.3</text>
<text x="134.80" y="606.80" text-anchor="middle">0.6</text>
<text x="160.40" y="606.80" text-anchor="middle">1</text>
<text x="186.00" y="606.80" text-anchor="middle">3</text>
<clipPath id="c46_609"><rect x="46.5" y="609.5" width="156.4" height="14.0"/></clipPath>
<rect x="46.50" y="609.50" width="156.40" height="14.00" fill="#ededed"/>
<g clip-path="url(#c46_609)">
<rect x="51.0" y="614.8" width="21.5" height="3.7" rx="1.9" fill="#0c0c0c" opacity="1" filter="url(#b1)"/>
<rect x="75.4" y="614.9" width="20.0" height="3.7" rx="1.9" fill="#0c0c0c" opacity="1" filter="url(#b1)"/>
<rect x="100.9" y="614.9" width="21.0" height="3.7" rx="1.9" fill="#0c0c0c" opacity="1" filter="url(#b1)"/>
<rect x="124.6" y="615.0" width="20.5" height="4.6" rx="2.3" fill="#0c0c0c" opacity="1" filter="url(#b1)"/>
<rect x="149.5" y="613.0" width="23.0" height="8.0" rx="4.0" fill="#0c0c0c" opacity="1" filter="url(#b2)"/>
<rect x="173.8" y="609.2" width="27.0" height="14.5" rx="7.2" fill="#0c0c0c" opacity="1" filter="url(#b2)"/>
</g>
<rect x="46.50" y="609.50" width="156.40" height="14.00" fill="none" stroke="#2a2a2a" stroke-width="1.0"/>
<text x="43.50" y="619.80" text-anchor="end">LDLR</text>
<clipPath id="c46_625"><rect x="46.5" y="625.4" width="156.4" height="16.4"/></clipPath>
<rect x="46.50" y="625.40" width="156.40" height="16.40" fill="#f8f8f8"/>
<g clip-path="url(#c46_625)">
<rect x="47.7" y="630.6" width="7.0" height="1.6" rx="0.8" fill="#0c0c0c" opacity="0.35" filter="url(#b1)"/>
<rect x="101.7" y="633.4" width="16.0" height="2.6" rx="1.3" fill="#0c0c0c" opacity="0.7" filter="url(#b1)"/>
<rect x="125.3" y="632.8" width="19.0" height="4.0" rx="2.0" fill="#0c0c0c" opacity="0.95" filter="url(#b1)"/>
<rect x="150.9" y="632.3" width="19.0" height="5.0" rx="2.5" fill="#0c0c0c" opacity="1" filter="url(#b1)"/>
<rect x="177.8" y="633.3" width="17.5" height="3.0" rx="1.5" fill="#0c0c0c" opacity="0.7" filter="url(#b1)"/>
</g>
<rect x="46.50" y="625.40" width="156.40" height="16.40" fill="none" stroke="#2a2a2a" stroke-width="1.0"/>
<text x="43.50" y="636.80" text-anchor="end">SRB1</text>
<clipPath id="c46_643"><rect x="46.5" y="643.8" width="156.4" height="16.7"/></clipPath>
<rect x="46.50" y="643.80" width="156.40" height="16.70" fill="#ececec"/>
<g clip-path="url(#c46_643)">
<rect x="51.2" y="650.9" width="21.0" height="4.4" rx="2.2" fill="#0c0c0c" opacity="0.58" filter="url(#b1)"/>
<rect x="74.7" y="651.1" width="21.5" height="4.6" rx="2.3" fill="#0c0c0c" opacity="0.64" filter="url(#b1)"/>
<rect x="100.7" y="650.6" width="21.5" height="5.0" rx="2.5" fill="#0c0c0c" opacity="0.78" filter="url(#b1)"/>
<rect x="123.3" y="648.5" width="23.0" height="5.6" rx="2.8" fill="#0c0c0c" opacity="0.85" filter="url(#b1)"/>
<rect x="148.9" y="647.4" width="23.0" height="6.3" rx="3.1" fill="#0c0c0c" opacity="0.9" filter="url(#b2)"/>
<rect x="174.5" y="647.1" width="23.0" height="5.6" rx="2.8" fill="#0c0c0c" opacity="0.85" filter="url(#b1)"/>
</g>
<rect x="46.50" y="643.80" width="156.40" height="16.70" fill="none" stroke="#2a2a2a" stroke-width="1.0"/>
<text x="43.50" y="655.10" text-anchor="end">UGCG</text>
<clipPath id="c46_662"><rect x="46.5" y="662.1" width="156.4" height="15.9"/></clipPath>
<rect x="46.50" y="662.10" width="156.40" height="15.90" fill="#e4e4e4"/>
<g clip-path="url(#c46_662)">
<rect x="51.7" y="666.9" width="20.0" height="1.8" rx="0.9" fill="#0c0c0c" opacity="0.3" filter="url(#b1)"/>
<rect x="75.4" y="667.1" width="20.0" height="1.8" rx="0.9" fill="#0c0c0c" opacity="0.3" filter="url(#b1)"/>
<rect x="101.4" y="667.8" width="20.0" height="1.8" rx="0.9" fill="#0c0c0c" opacity="0.3" filter="url(#b1)"/>
<rect x="124.8" y="668.2" width="20.0" height="2.6" rx="1.3" fill="#0c0c0c" opacity="0.55" filter="url(#b1)"/>
<rect x="150.4" y="668.5" width="20.0" height="2.6" rx="1.3" fill="#0c0c0c" opacity="0.55" filter="url(#b1)"/>
<rect x="176.0" y="668.5" width="20.0" height="2.6" rx="1.3" fill="#0c0c0c" opacity="0.55" filter="url(#b1)"/>
</g>
<rect x="46.50" y="662.10" width="156.40" height="15.90" fill="none" stroke="#2a2a2a" stroke-width="1.0"/>
<text x="43.50" y="672.60" text-anchor="end">CERS2</text>
<clipPath id="c46_680"><rect x="46.5" y="680.1" width="156.4" height="12.9"/></clipPath>
<rect x="46.50" y="680.10" width="156.40" height="12.90" fill="#dedede"/>
<g clip-path="url(#c46_680)">
<rect x="48.0" y="684.7" width="153.4" height="2.4" fill="#0c0c0c" opacity="0.85" filter="url(#b1)"/>
<rect x="48.7" y="683.0" width="26.0" height="3.6" rx="1.8" fill="#0c0c0c" opacity="1" filter="url(#b1)"/>
<rect x="72.4" y="683.4" width="26.0" height="3.6" rx="1.8" fill="#0c0c0c" opacity="1" filter="url(#b1)"/>
<rect x="97.9" y="683.5" width="27.0" height="3.6" rx="1.8" fill="#0c0c0c" opacity="1" filter="url(#b1)"/>
<rect x="121.8" y="684.1" width="26.0" height="3.6" rx="1.8" fill="#0c0c0c" opacity="1" filter="url(#b1)"/>
<rect x="146.9" y="684.8" width="27.0" height="3.6" rx="1.8" fill="#0c0c0c" opacity="1" filter="url(#b1)"/>
<rect x="172.5" y="685.0" width="27.0" height="3.6" rx="1.8" fill="#0c0c0c" opacity="1" filter="url(#b1)"/>
</g>
<rect x="46.50" y="680.10" width="156.40" height="12.90" fill="none" stroke="#2a2a2a" stroke-width="1.0"/>
<text x="43.50" y="688.90" text-anchor="end">β-Actin</text>
<text x="295.40" y="588.00" font-size="10.2" font-weight="bold" fill="#111">N</text>
<text x="394.50" y="590.80" font-size="7.7" text-anchor="middle">DC661 (3 µmol/L)</text>
<line x1="314.50" y1="596.00" x2="473.70" y2="596.00" stroke="#555" stroke-width="0.9"/>
<text x="480.50" y="597.90">Time (h)</text>
<text x="325.30" y="605.80" text-anchor="middle">0</text>
<text x="349.60" y="605.80" text-anchor="middle">0.5</text>
<text x="371.50" y="605.80" text-anchor="middle">1</text>
<text x="395.50" y="605.80" text-anchor="middle">2</text>
<text x="418.00" y="605.80" text-anchor="middle">4</text>
<text x="441.20" y="605.80" text-anchor="middle">6</text>
<text x="465.00" y="605.80" text-anchor="middle">24</text>
<clipPath id="c312_607"><rect x="312.3" y="607.4" width="165.2" height="16.3"/></clipPath>
<rect x="312.30" y="607.40" width="165.20" height="16.30" fill="#d9d9d9"/>
<g clip-path="url(#c312_607)">
<ellipse cx="325.3" cy="616.3" rx="11.0" ry="4.7" fill="#fff" opacity="0.6" filter="url(#b3)"/>
<rect x="316.3" y="614.7" width="18.0" height="3.3" rx="1.6" fill="#0c0c0c" opacity="0.95" filter="url(#b1)"/>
<ellipse cx="348.9" cy="616.3" rx="11.0" ry="4.7" fill="#fff" opacity="0.6" filter="url(#b3)"/>
<rect x="339.9" y="614.7" width="18.0" height="3.3" rx="1.6" fill="#0c0c0c" opacity="0.95" filter="url(#b1)"/>
<ellipse cx="371.5" cy="616.3" rx="11.0" ry="4.7" fill="#fff" opacity="0.6" filter="url(#b3)"/>
<rect x="362.5" y="614.7" width="18.0" height="3.3" rx="1.6" fill="#0c0c0c" opacity="0.95" filter="url(#b1)"/>
<ellipse cx="395.5" cy="616.3" rx="10.5" ry="4.7" fill="#fff" opacity="0.6" filter="url(#b3)"/>
<rect x="387.0" y="614.7" width="17.0" height="3.3" rx="1.6" fill="#0c0c0c" opacity="0.9" filter="url(#b1)"/>
<ellipse cx="418.6" cy="616.5" rx="10.8" ry="5.3" fill="#fff" opacity="0.6" filter="url(#b3)"/>
<rect x="409.9" y="614.2" width="17.5" height="4.6" rx="2.3" fill="#0c0c0c" opacity="0.95" filter="url(#b1)"/>
<ellipse cx="441.2" cy="616.5" rx="12.0" ry="5.8" fill="#fff" opacity="0.6" filter="url(#b3)"/>
<rect x="431.2" y="613.8" width="20.0" height="5.6" rx="2.8" fill="#0c0c0c" opacity="1" filter="url(#b1)"/>
<ellipse cx="465.8" cy="616.5" rx="12.2" ry="6.5" fill="#fff" opacity="0.5" filter="url(#b3)"/>
<rect x="455.6" y="613.0" width="20.5" height="7.0" rx="3.5" fill="#0c0c0c" opacity="1" filter="url(#b2)"/>
</g>
<rect x="312.30" y="607.40" width="165.20" height="16.30" fill="none" stroke="#2a2a2a" stroke-width="1.0"/>
<text x="480.00" y="619.30">LDLR</text>
<clipPath id="c312_626"><rect x="312.3" y="626" width="165.2" height="14.6"/></clipPath>
<rect x="312.30" y="626.00" width="165.20" height="14.60" fill="#f1f1f1"/>
<g clip-path="url(#c312_626)">
<rect x="351.4" y="632.2" width="7.5" height="2.6" rx="1.3" fill="#0c0c0c" opacity="0.95" filter="url(#b1)"/>
<rect x="363.8" y="631.6" width="17.5" height="3.8" rx="1.9" fill="#0c0c0c" opacity="1" filter="url(#b1)"/>
<rect x="386.0" y="630.3" width="19.0" height="6.0" rx="3.0" fill="#0c0c0c" opacity="1" filter="url(#b1)"/>
<rect x="406.5" y="629.0" width="23.0" height="8.6" rx="4.3" fill="#0c0c0c" opacity="1" filter="url(#b2)"/>
<rect x="429.2" y="628.0" width="24.0" height="10.6" rx="5.3" fill="#0c0c0c" opacity="1" filter="url(#b2)"/>
<rect x="452.5" y="627.4" width="25.0" height="11.8" rx="5.9" fill="#0c0c0c" opacity="1" filter="url(#b2)"/>
</g>
<rect x="312.30" y="626.00" width="165.20" height="14.60" fill="none" stroke="#2a2a2a" stroke-width="1.0"/>
<text x="480.00" y="636.10">SRB1</text>
<clipPath id="c312_643"><rect x="312.3" y="643.6" width="165.2" height="17.0"/></clipPath>
<rect x="312.30" y="643.60" width="165.20" height="17.00" fill="#ececec"/>
<g clip-path="url(#c312_643)">
<rect x="316.1" y="649.8" width="18.5" height="3.4" rx="1.7" fill="#0c0c0c" opacity="0.9" filter="url(#b1)"/>
<rect x="340.1" y="650.8" width="19.0" height="4.0" rx="2.0" fill="#0c0c0c" opacity="0.9" filter="url(#b1)"/>
<rect x="361.8" y="651.6" width="19.5" height="4.6" rx="2.3" fill="#0c0c0c" opacity="0.95" filter="url(#b1)"/>
<rect x="385.8" y="651.4" width="19.5" height="4.6" rx="2.3" fill="#0c0c0c" opacity="0.95" filter="url(#b1)"/>
<rect x="408.2" y="651.4" width="19.5" height="4.6" rx="2.3" fill="#0c0c0c" opacity="0.95" filter="url(#b1)"/>
<rect x="431.2" y="651.1" width="20.0" height="4.8" rx="2.4" fill="#0c0c0c" opacity="0.95" filter="url(#b1)"/>
<rect x="455.0" y="650.9" width="20.0" height="4.8" rx="2.4" fill="#0c0c0c" opacity="0.95" filter="url(#b1)"/>
</g>
<rect x="312.30" y="643.60" width="165.20" height="17.00" fill="none" stroke="#2a2a2a" stroke-width="1.0"/>
<text x="480.00" y="653.10">UGCG</text>
<clipPath id="c312_663"><rect x="312.3" y="663.1" width="165.2" height="14.2"/></clipPath>
<rect x="312.30" y="663.10" width="165.20" height="14.20" fill="#dedede"/>
<g clip-path="url(#c312_663)">
<rect x="316.8" y="667.9" width="17.0" height="2.2" rx="1.1" fill="#0c0c0c" opacity="0.5" filter="url(#b1)"/>
<rect x="341.1" y="668.7" width="17.0" height="2.2" rx="1.1" fill="#0c0c0c" opacity="0.45" filter="url(#b1)"/>
<rect x="363.0" y="669.7" width="17.0" height="2.2" rx="1.1" fill="#0c0c0c" opacity="0.4" filter="url(#b1)"/>
<rect x="387.0" y="669.6" width="17.0" height="2.4" rx="1.2" fill="#0c0c0c" opacity="0.45" filter="url(#b1)"/>
<rect x="409.0" y="669.7" width="18.0" height="2.6" rx="1.3" fill="#0c0c0c" opacity="0.65" filter="url(#b1)"/>
<rect x="432.2" y="669.7" width="18.0" height="2.6" rx="1.3" fill="#0c0c0c" opacity="0.55" filter="url(#b1)"/>
<rect x="455.0" y="670.3" width="20.0" height="3.8" rx="1.9" fill="#0c0c0c" opacity="0.95" filter="url(#b1)"/>
</g>
<rect x="312.30" y="663.10" width="165.20" height="14.20" fill="none" stroke="#2a2a2a" stroke-width="1.0"/>
<text x="480.00" y="670.60">CERS2</text>
<clipPath id="c312_680"><rect x="312.3" y="680.4" width="165.2" height="12.6"/></clipPath>
<rect x="312.30" y="680.40" width="165.20" height="12.60" fill="#e6e6e6"/>
<g clip-path="url(#c312_680)">
<rect x="314.8" y="684.2" width="21.0" height="3.8" rx="1.9" fill="#0c0c0c" opacity="1" filter="url(#b1)"/>
<rect x="339.6" y="684.4" width="20.0" height="3.8" rx="1.9" fill="#0c0c0c" opacity="1" filter="url(#b1)"/>
<rect x="361.5" y="684.6" width="20.0" height="3.8" rx="1.9" fill="#0c0c0c" opacity="1" filter="url(#b1)"/>
<rect x="385.5" y="684.8" width="20.0" height="3.8" rx="1.9" fill="#0c0c0c" opacity="1" filter="url(#b1)"/>
<rect x="408.0" y="684.9" width="20.0" height="3.6" rx="1.8" fill="#0c0c0c" opacity="0.95" filter="url(#b1)"/>
<rect x="431.2" y="685.2" width="20.0" height="3.4" rx="1.7" fill="#0c0c0c" opacity="0.9" filter="url(#b1)"/>
<rect x="455.0" y="684.7" width="20.0" height="4.0" rx="2.0" fill="#0c0c0c" opacity="1" filter="url(#b1)"/>
</g>
<rect x="312.30" y="680.40" width="165.20" height="12.60" fill="none" stroke="#2a2a2a" stroke-width="1.0"/>
<text x="480.00" y="687.60">β-Actin</text>
</svg>
</body></html>
